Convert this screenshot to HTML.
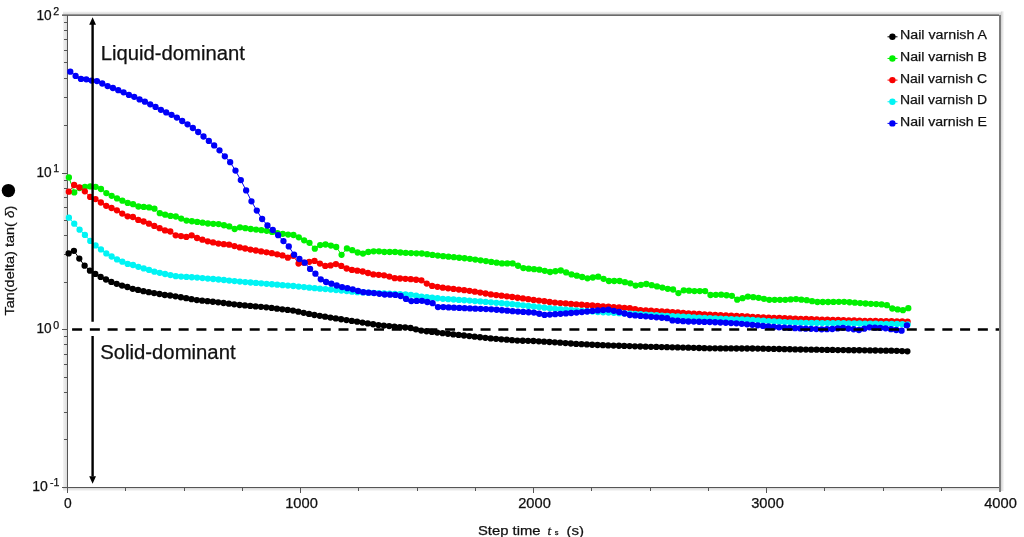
<!DOCTYPE html><html><head><meta charset="utf-8"><style>html,body{margin:0;padding:0;background:#fff;width:1024px;height:537px;overflow:hidden}svg{display:block;filter:blur(0.3px);font-family:"Liberation Sans",sans-serif}text{fill:#111;stroke:#111;stroke-width:0.25px}</style></head><body><svg width="1024" height="537" viewBox="0 0 1024 537"><defs><linearGradient id="gt" x1="0" y1="0" x2="0" y2="1"><stop offset="0" stop-color="#f4f4f4"/><stop offset="1" stop-color="#cfcfcf"/></linearGradient><linearGradient id="gb" x1="0" y1="0" x2="0" y2="1"><stop offset="0" stop-color="#d6d6d6"/><stop offset="1" stop-color="#fafafa"/></linearGradient><linearGradient id="gl" x1="0" y1="0" x2="1" y2="0"><stop offset="0" stop-color="#f3f3f3"/><stop offset="1" stop-color="#dcdcdc"/></linearGradient><linearGradient id="gr" x1="0" y1="0" x2="1" y2="0"><stop offset="0" stop-color="#d2d2d2"/><stop offset="1" stop-color="#fafafa"/></linearGradient></defs><rect width="1024" height="537" fill="#fff"/><rect x="63" y="11.5" width="941" height="3.5" fill="url(#gt)"/><rect x="63" y="488" width="938" height="3" fill="url(#gb)"/><rect x="1001" y="11.5" width="3" height="479.5" fill="url(#gr)"/><rect x="63" y="16" width="4" height="471" fill="url(#gl)"/><rect x="999" y="15" width="2" height="477" fill="#7c7c7c"/><rect x="62" y="14.4" width="937" height="1.6" fill="#6a6a6a"/><g stroke="#555" stroke-width="1" fill="none" shape-rendering="crispEdges"><path d="M62 487.5H999M67.5 15V493"/><path d="M64 125.5H67"/><path d="M64 97.5H67"/><path d="M64 78.5H67"/><path d="M64 62.5H67"/><path d="M64 50.5H67"/><path d="M64 39.5H67"/><path d="M64 30.5H67"/><path d="M64 22.5H67"/><path d="M64 282.5H67"/><path d="M64 254.5H67"/><path d="M64 235.5H67"/><path d="M64 220.5H67"/><path d="M64 207.5H67"/><path d="M64 197.5H67"/><path d="M64 188.5H67"/><path d="M64 180.5H67"/><path d="M64 439.5H67"/><path d="M64 412.5H67"/><path d="M64 392.5H67"/><path d="M64 377.5H67"/><path d="M64 364.5H67"/><path d="M64 354.5H67"/><path d="M64 344.5H67"/><path d="M64 336.5H67"/><path d="M62 173.5H67"/><path d="M62 329.5H67"/><path d="M67.5 488V493"/><path d="M125.5 488V491"/><path d="M184.5 488V491"/><path d="M242.5 488V491"/><path d="M300.5 488V493"/><path d="M358.5 488V491"/><path d="M417.5 488V491"/><path d="M475.5 488V491"/><path d="M533.5 488V493"/><path d="M591.5 488V491"/><path d="M650.5 488V491"/><path d="M708.5 488V491"/><path d="M766.5 488V493"/><path d="M824.5 488V491"/><path d="M883.5 488V491"/><path d="M941.5 488V491"/></g><polyline points="68.6,253.4 73.94,250.8 79.29,258.6 84.63,265.7 89.97,270.7 95.31,273.9 100.66,276.9 106,279.5 111.34,281.9 116.68,283.8 122.03,285.6 127.37,287 132.71,288.8 138.05,289.9 143.4,291.2 148.74,292.2 154.08,293.1 159.43,294 164.77,295 170.11,295.5 175.45,296.3 180.8,297.25 186.14,298.2 191.48,299.15 196.82,300.1 202.17,300.65 207.51,301.2 212.85,301.75 218.19,302.3 223.54,302.98 228.88,303.65 234.22,304.32 239.57,305 244.91,305.46 250.25,305.92 255.59,306.38 260.94,306.84 266.28,307.3 271.62,307.96 276.96,308.62 282.31,309.28 287.65,309.94 292.99,310.6 298.34,311.7 303.68,312.8 309.02,313.9 314.36,315 319.71,315.85 325.05,316.7 330.39,317.55 335.73,318.4 341.08,319.22 346.42,320.05 351.76,320.88 357.1,321.7 362.45,322.55 367.79,323.4 373.13,324.25 378.48,325.1 383.82,325.58 389.16,326.07 394.5,326.55 399.85,327.03 405.19,327.52 410.53,328 415.87,329.3 421.22,330.6 426.56,331.25 431.9,331.9 437.24,332.55 442.59,333.2 447.93,333.78 453.27,334.36 458.62,334.94 463.96,335.52 469.3,336.1 474.64,336.68 479.99,337.25 485.33,337.82 490.67,338.4 496.01,338.84 501.36,339.28 506.7,339.72 512.04,340.16 517.38,340.6 522.73,340.73 528.07,340.87 533.41,341 538.76,341.32 544.1,341.65 549.44,341.98 554.78,342.3 560.13,342.7 565.47,343.1 570.81,343.5 576.15,343.9 581.5,344.17 586.84,344.45 592.18,344.73 597.52,345 602.87,345.18 608.21,345.37 613.55,345.55 618.9,345.73 624.24,345.92 629.58,346.1 634.92,346.3 640.27,346.5 645.61,346.64 650.95,346.78 656.29,346.92 661.64,347.06 666.98,347.2 672.32,347.32 677.66,347.45 683.01,347.57 688.35,347.7 693.69,347.85 699.04,348 704.38,348.15 709.72,348.3 715.06,348.34 720.41,348.38 725.75,348.42 731.09,348.46 736.43,348.5 741.78,348.5 747.12,348.5 752.46,348.5 757.81,348.6 763.15,348.7 768.49,348.8 773.83,348.9 779.18,349.02 784.52,349.15 789.86,349.27 795.2,349.4 800.55,349.48 805.89,349.56 811.23,349.64 816.57,349.72 821.92,349.8 827.26,349.88 832.6,349.96 837.95,350.04 843.29,350.12 848.63,350.2 853.97,350.23 859.32,350.27 864.66,350.3 870,350.38 875.34,350.47 880.69,350.55 886.03,350.63 891.37,350.72 896.71,350.8 902.06,351.05 907.4,351.3" fill="none" stroke="#000000" stroke-width="1"/><path d="M65.45 253.4a3.15 3.15 0 1 0 6.3 0a3.15 3.15 0 1 0 -6.3 0M70.79 250.8a3.15 3.15 0 1 0 6.3 0a3.15 3.15 0 1 0 -6.3 0M76.14 258.6a3.15 3.15 0 1 0 6.3 0a3.15 3.15 0 1 0 -6.3 0M81.48 265.7a3.15 3.15 0 1 0 6.3 0a3.15 3.15 0 1 0 -6.3 0M86.82 270.7a3.15 3.15 0 1 0 6.3 0a3.15 3.15 0 1 0 -6.3 0M92.16 273.9a3.15 3.15 0 1 0 6.3 0a3.15 3.15 0 1 0 -6.3 0M97.51 276.9a3.15 3.15 0 1 0 6.3 0a3.15 3.15 0 1 0 -6.3 0M102.85 279.5a3.15 3.15 0 1 0 6.3 0a3.15 3.15 0 1 0 -6.3 0M108.19 281.9a3.15 3.15 0 1 0 6.3 0a3.15 3.15 0 1 0 -6.3 0M113.53 283.8a3.15 3.15 0 1 0 6.3 0a3.15 3.15 0 1 0 -6.3 0M118.88 285.6a3.15 3.15 0 1 0 6.3 0a3.15 3.15 0 1 0 -6.3 0M124.22 287a3.15 3.15 0 1 0 6.3 0a3.15 3.15 0 1 0 -6.3 0M129.56 288.8a3.15 3.15 0 1 0 6.3 0a3.15 3.15 0 1 0 -6.3 0M134.9 289.9a3.15 3.15 0 1 0 6.3 0a3.15 3.15 0 1 0 -6.3 0M140.25 291.2a3.15 3.15 0 1 0 6.3 0a3.15 3.15 0 1 0 -6.3 0M145.59 292.2a3.15 3.15 0 1 0 6.3 0a3.15 3.15 0 1 0 -6.3 0M150.93 293.1a3.15 3.15 0 1 0 6.3 0a3.15 3.15 0 1 0 -6.3 0M156.28 294a3.15 3.15 0 1 0 6.3 0a3.15 3.15 0 1 0 -6.3 0M161.62 295a3.15 3.15 0 1 0 6.3 0a3.15 3.15 0 1 0 -6.3 0M166.96 295.5a3.15 3.15 0 1 0 6.3 0a3.15 3.15 0 1 0 -6.3 0M172.3 296.3a3.15 3.15 0 1 0 6.3 0a3.15 3.15 0 1 0 -6.3 0M177.65 297.25a3.15 3.15 0 1 0 6.3 0a3.15 3.15 0 1 0 -6.3 0M182.99 298.2a3.15 3.15 0 1 0 6.3 0a3.15 3.15 0 1 0 -6.3 0M188.33 299.15a3.15 3.15 0 1 0 6.3 0a3.15 3.15 0 1 0 -6.3 0M193.67 300.1a3.15 3.15 0 1 0 6.3 0a3.15 3.15 0 1 0 -6.3 0M199.02 300.65a3.15 3.15 0 1 0 6.3 0a3.15 3.15 0 1 0 -6.3 0M204.36 301.2a3.15 3.15 0 1 0 6.3 0a3.15 3.15 0 1 0 -6.3 0M209.7 301.75a3.15 3.15 0 1 0 6.3 0a3.15 3.15 0 1 0 -6.3 0M215.04 302.3a3.15 3.15 0 1 0 6.3 0a3.15 3.15 0 1 0 -6.3 0M220.39 302.98a3.15 3.15 0 1 0 6.3 0a3.15 3.15 0 1 0 -6.3 0M225.73 303.65a3.15 3.15 0 1 0 6.3 0a3.15 3.15 0 1 0 -6.3 0M231.07 304.32a3.15 3.15 0 1 0 6.3 0a3.15 3.15 0 1 0 -6.3 0M236.42 305a3.15 3.15 0 1 0 6.3 0a3.15 3.15 0 1 0 -6.3 0M241.76 305.46a3.15 3.15 0 1 0 6.3 0a3.15 3.15 0 1 0 -6.3 0M247.1 305.92a3.15 3.15 0 1 0 6.3 0a3.15 3.15 0 1 0 -6.3 0M252.44 306.38a3.15 3.15 0 1 0 6.3 0a3.15 3.15 0 1 0 -6.3 0M257.79 306.84a3.15 3.15 0 1 0 6.3 0a3.15 3.15 0 1 0 -6.3 0M263.13 307.3a3.15 3.15 0 1 0 6.3 0a3.15 3.15 0 1 0 -6.3 0M268.47 307.96a3.15 3.15 0 1 0 6.3 0a3.15 3.15 0 1 0 -6.3 0M273.81 308.62a3.15 3.15 0 1 0 6.3 0a3.15 3.15 0 1 0 -6.3 0M279.16 309.28a3.15 3.15 0 1 0 6.3 0a3.15 3.15 0 1 0 -6.3 0M284.5 309.94a3.15 3.15 0 1 0 6.3 0a3.15 3.15 0 1 0 -6.3 0M289.84 310.6a3.15 3.15 0 1 0 6.3 0a3.15 3.15 0 1 0 -6.3 0M295.19 311.7a3.15 3.15 0 1 0 6.3 0a3.15 3.15 0 1 0 -6.3 0M300.53 312.8a3.15 3.15 0 1 0 6.3 0a3.15 3.15 0 1 0 -6.3 0M305.87 313.9a3.15 3.15 0 1 0 6.3 0a3.15 3.15 0 1 0 -6.3 0M311.21 315a3.15 3.15 0 1 0 6.3 0a3.15 3.15 0 1 0 -6.3 0M316.56 315.85a3.15 3.15 0 1 0 6.3 0a3.15 3.15 0 1 0 -6.3 0M321.9 316.7a3.15 3.15 0 1 0 6.3 0a3.15 3.15 0 1 0 -6.3 0M327.24 317.55a3.15 3.15 0 1 0 6.3 0a3.15 3.15 0 1 0 -6.3 0M332.58 318.4a3.15 3.15 0 1 0 6.3 0a3.15 3.15 0 1 0 -6.3 0M337.93 319.22a3.15 3.15 0 1 0 6.3 0a3.15 3.15 0 1 0 -6.3 0M343.27 320.05a3.15 3.15 0 1 0 6.3 0a3.15 3.15 0 1 0 -6.3 0M348.61 320.88a3.15 3.15 0 1 0 6.3 0a3.15 3.15 0 1 0 -6.3 0M353.95 321.7a3.15 3.15 0 1 0 6.3 0a3.15 3.15 0 1 0 -6.3 0M359.3 322.55a3.15 3.15 0 1 0 6.3 0a3.15 3.15 0 1 0 -6.3 0M364.64 323.4a3.15 3.15 0 1 0 6.3 0a3.15 3.15 0 1 0 -6.3 0M369.98 324.25a3.15 3.15 0 1 0 6.3 0a3.15 3.15 0 1 0 -6.3 0M375.33 325.1a3.15 3.15 0 1 0 6.3 0a3.15 3.15 0 1 0 -6.3 0M380.67 325.58a3.15 3.15 0 1 0 6.3 0a3.15 3.15 0 1 0 -6.3 0M386.01 326.07a3.15 3.15 0 1 0 6.3 0a3.15 3.15 0 1 0 -6.3 0M391.35 326.55a3.15 3.15 0 1 0 6.3 0a3.15 3.15 0 1 0 -6.3 0M396.7 327.03a3.15 3.15 0 1 0 6.3 0a3.15 3.15 0 1 0 -6.3 0M402.04 327.52a3.15 3.15 0 1 0 6.3 0a3.15 3.15 0 1 0 -6.3 0M407.38 328a3.15 3.15 0 1 0 6.3 0a3.15 3.15 0 1 0 -6.3 0M412.72 329.3a3.15 3.15 0 1 0 6.3 0a3.15 3.15 0 1 0 -6.3 0M418.07 330.6a3.15 3.15 0 1 0 6.3 0a3.15 3.15 0 1 0 -6.3 0M423.41 331.25a3.15 3.15 0 1 0 6.3 0a3.15 3.15 0 1 0 -6.3 0M428.75 331.9a3.15 3.15 0 1 0 6.3 0a3.15 3.15 0 1 0 -6.3 0M434.09 332.55a3.15 3.15 0 1 0 6.3 0a3.15 3.15 0 1 0 -6.3 0M439.44 333.2a3.15 3.15 0 1 0 6.3 0a3.15 3.15 0 1 0 -6.3 0M444.78 333.78a3.15 3.15 0 1 0 6.3 0a3.15 3.15 0 1 0 -6.3 0M450.12 334.36a3.15 3.15 0 1 0 6.3 0a3.15 3.15 0 1 0 -6.3 0M455.47 334.94a3.15 3.15 0 1 0 6.3 0a3.15 3.15 0 1 0 -6.3 0M460.81 335.52a3.15 3.15 0 1 0 6.3 0a3.15 3.15 0 1 0 -6.3 0M466.15 336.1a3.15 3.15 0 1 0 6.3 0a3.15 3.15 0 1 0 -6.3 0M471.49 336.68a3.15 3.15 0 1 0 6.3 0a3.15 3.15 0 1 0 -6.3 0M476.84 337.25a3.15 3.15 0 1 0 6.3 0a3.15 3.15 0 1 0 -6.3 0M482.18 337.82a3.15 3.15 0 1 0 6.3 0a3.15 3.15 0 1 0 -6.3 0M487.52 338.4a3.15 3.15 0 1 0 6.3 0a3.15 3.15 0 1 0 -6.3 0M492.86 338.84a3.15 3.15 0 1 0 6.3 0a3.15 3.15 0 1 0 -6.3 0M498.21 339.28a3.15 3.15 0 1 0 6.3 0a3.15 3.15 0 1 0 -6.3 0M503.55 339.72a3.15 3.15 0 1 0 6.3 0a3.15 3.15 0 1 0 -6.3 0M508.89 340.16a3.15 3.15 0 1 0 6.3 0a3.15 3.15 0 1 0 -6.3 0M514.23 340.6a3.15 3.15 0 1 0 6.3 0a3.15 3.15 0 1 0 -6.3 0M519.58 340.73a3.15 3.15 0 1 0 6.3 0a3.15 3.15 0 1 0 -6.3 0M524.92 340.87a3.15 3.15 0 1 0 6.3 0a3.15 3.15 0 1 0 -6.3 0M530.26 341a3.15 3.15 0 1 0 6.3 0a3.15 3.15 0 1 0 -6.3 0M535.61 341.32a3.15 3.15 0 1 0 6.3 0a3.15 3.15 0 1 0 -6.3 0M540.95 341.65a3.15 3.15 0 1 0 6.3 0a3.15 3.15 0 1 0 -6.3 0M546.29 341.98a3.15 3.15 0 1 0 6.3 0a3.15 3.15 0 1 0 -6.3 0M551.63 342.3a3.15 3.15 0 1 0 6.3 0a3.15 3.15 0 1 0 -6.3 0M556.98 342.7a3.15 3.15 0 1 0 6.3 0a3.15 3.15 0 1 0 -6.3 0M562.32 343.1a3.15 3.15 0 1 0 6.3 0a3.15 3.15 0 1 0 -6.3 0M567.66 343.5a3.15 3.15 0 1 0 6.3 0a3.15 3.15 0 1 0 -6.3 0M573 343.9a3.15 3.15 0 1 0 6.3 0a3.15 3.15 0 1 0 -6.3 0M578.35 344.17a3.15 3.15 0 1 0 6.3 0a3.15 3.15 0 1 0 -6.3 0M583.69 344.45a3.15 3.15 0 1 0 6.3 0a3.15 3.15 0 1 0 -6.3 0M589.03 344.73a3.15 3.15 0 1 0 6.3 0a3.15 3.15 0 1 0 -6.3 0M594.37 345a3.15 3.15 0 1 0 6.3 0a3.15 3.15 0 1 0 -6.3 0M599.72 345.18a3.15 3.15 0 1 0 6.3 0a3.15 3.15 0 1 0 -6.3 0M605.06 345.37a3.15 3.15 0 1 0 6.3 0a3.15 3.15 0 1 0 -6.3 0M610.4 345.55a3.15 3.15 0 1 0 6.3 0a3.15 3.15 0 1 0 -6.3 0M615.75 345.73a3.15 3.15 0 1 0 6.3 0a3.15 3.15 0 1 0 -6.3 0M621.09 345.92a3.15 3.15 0 1 0 6.3 0a3.15 3.15 0 1 0 -6.3 0M626.43 346.1a3.15 3.15 0 1 0 6.3 0a3.15 3.15 0 1 0 -6.3 0M631.77 346.3a3.15 3.15 0 1 0 6.3 0a3.15 3.15 0 1 0 -6.3 0M637.12 346.5a3.15 3.15 0 1 0 6.3 0a3.15 3.15 0 1 0 -6.3 0M642.46 346.64a3.15 3.15 0 1 0 6.3 0a3.15 3.15 0 1 0 -6.3 0M647.8 346.78a3.15 3.15 0 1 0 6.3 0a3.15 3.15 0 1 0 -6.3 0M653.14 346.92a3.15 3.15 0 1 0 6.3 0a3.15 3.15 0 1 0 -6.3 0M658.49 347.06a3.15 3.15 0 1 0 6.3 0a3.15 3.15 0 1 0 -6.3 0M663.83 347.2a3.15 3.15 0 1 0 6.3 0a3.15 3.15 0 1 0 -6.3 0M669.17 347.32a3.15 3.15 0 1 0 6.3 0a3.15 3.15 0 1 0 -6.3 0M674.51 347.45a3.15 3.15 0 1 0 6.3 0a3.15 3.15 0 1 0 -6.3 0M679.86 347.57a3.15 3.15 0 1 0 6.3 0a3.15 3.15 0 1 0 -6.3 0M685.2 347.7a3.15 3.15 0 1 0 6.3 0a3.15 3.15 0 1 0 -6.3 0M690.54 347.85a3.15 3.15 0 1 0 6.3 0a3.15 3.15 0 1 0 -6.3 0M695.89 348a3.15 3.15 0 1 0 6.3 0a3.15 3.15 0 1 0 -6.3 0M701.23 348.15a3.15 3.15 0 1 0 6.3 0a3.15 3.15 0 1 0 -6.3 0M706.57 348.3a3.15 3.15 0 1 0 6.3 0a3.15 3.15 0 1 0 -6.3 0M711.91 348.34a3.15 3.15 0 1 0 6.3 0a3.15 3.15 0 1 0 -6.3 0M717.26 348.38a3.15 3.15 0 1 0 6.3 0a3.15 3.15 0 1 0 -6.3 0M722.6 348.42a3.15 3.15 0 1 0 6.3 0a3.15 3.15 0 1 0 -6.3 0M727.94 348.46a3.15 3.15 0 1 0 6.3 0a3.15 3.15 0 1 0 -6.3 0M733.28 348.5a3.15 3.15 0 1 0 6.3 0a3.15 3.15 0 1 0 -6.3 0M738.63 348.5a3.15 3.15 0 1 0 6.3 0a3.15 3.15 0 1 0 -6.3 0M743.97 348.5a3.15 3.15 0 1 0 6.3 0a3.15 3.15 0 1 0 -6.3 0M749.31 348.5a3.15 3.15 0 1 0 6.3 0a3.15 3.15 0 1 0 -6.3 0M754.66 348.6a3.15 3.15 0 1 0 6.3 0a3.15 3.15 0 1 0 -6.3 0M760 348.7a3.15 3.15 0 1 0 6.3 0a3.15 3.15 0 1 0 -6.3 0M765.34 348.8a3.15 3.15 0 1 0 6.3 0a3.15 3.15 0 1 0 -6.3 0M770.68 348.9a3.15 3.15 0 1 0 6.3 0a3.15 3.15 0 1 0 -6.3 0M776.03 349.02a3.15 3.15 0 1 0 6.3 0a3.15 3.15 0 1 0 -6.3 0M781.37 349.15a3.15 3.15 0 1 0 6.3 0a3.15 3.15 0 1 0 -6.3 0M786.71 349.27a3.15 3.15 0 1 0 6.3 0a3.15 3.15 0 1 0 -6.3 0M792.05 349.4a3.15 3.15 0 1 0 6.3 0a3.15 3.15 0 1 0 -6.3 0M797.4 349.48a3.15 3.15 0 1 0 6.3 0a3.15 3.15 0 1 0 -6.3 0M802.74 349.56a3.15 3.15 0 1 0 6.3 0a3.15 3.15 0 1 0 -6.3 0M808.08 349.64a3.15 3.15 0 1 0 6.3 0a3.15 3.15 0 1 0 -6.3 0M813.42 349.72a3.15 3.15 0 1 0 6.3 0a3.15 3.15 0 1 0 -6.3 0M818.77 349.8a3.15 3.15 0 1 0 6.3 0a3.15 3.15 0 1 0 -6.3 0M824.11 349.88a3.15 3.15 0 1 0 6.3 0a3.15 3.15 0 1 0 -6.3 0M829.45 349.96a3.15 3.15 0 1 0 6.3 0a3.15 3.15 0 1 0 -6.3 0M834.8 350.04a3.15 3.15 0 1 0 6.3 0a3.15 3.15 0 1 0 -6.3 0M840.14 350.12a3.15 3.15 0 1 0 6.3 0a3.15 3.15 0 1 0 -6.3 0M845.48 350.2a3.15 3.15 0 1 0 6.3 0a3.15 3.15 0 1 0 -6.3 0M850.82 350.23a3.15 3.15 0 1 0 6.3 0a3.15 3.15 0 1 0 -6.3 0M856.17 350.27a3.15 3.15 0 1 0 6.3 0a3.15 3.15 0 1 0 -6.3 0M861.51 350.3a3.15 3.15 0 1 0 6.3 0a3.15 3.15 0 1 0 -6.3 0M866.85 350.38a3.15 3.15 0 1 0 6.3 0a3.15 3.15 0 1 0 -6.3 0M872.19 350.47a3.15 3.15 0 1 0 6.3 0a3.15 3.15 0 1 0 -6.3 0M877.54 350.55a3.15 3.15 0 1 0 6.3 0a3.15 3.15 0 1 0 -6.3 0M882.88 350.63a3.15 3.15 0 1 0 6.3 0a3.15 3.15 0 1 0 -6.3 0M888.22 350.72a3.15 3.15 0 1 0 6.3 0a3.15 3.15 0 1 0 -6.3 0M893.56 350.8a3.15 3.15 0 1 0 6.3 0a3.15 3.15 0 1 0 -6.3 0M898.91 351.05a3.15 3.15 0 1 0 6.3 0a3.15 3.15 0 1 0 -6.3 0M904.25 351.3a3.15 3.15 0 1 0 6.3 0a3.15 3.15 0 1 0 -6.3 0" fill="#000000"/><polyline points="68.9,177.4 74.25,192.4 79.59,188 84.94,186.8 90.29,186.4 95.63,186.8 100.98,189 106.33,193.1 111.67,195.8 117.02,198.4 122.36,200.7 127.71,202.9 133.06,204.2 138.4,206.5 143.75,206.9 149.1,207.4 154.44,208.7 159.79,213.2 165.14,214.7 170.48,215.9 175.83,216.5 181.18,218.55 186.52,220.6 191.87,221.25 197.22,221.9 202.56,222.7 207.91,223.5 213.26,223.8 218.6,224.1 223.95,225.25 229.29,226.4 234.64,229 239.99,227.3 245.33,228.15 250.68,229 256.03,229.6 261.37,230.2 266.72,230.8 272.07,231.95 277.41,233.1 282.76,233.85 288.11,234.6 293.45,235 298.8,237.3 304.15,240.3 309.49,242.8 314.84,248.7 320.19,245.1 325.53,244.5 330.88,245.6 336.22,247 341.57,254.8 346.92,248.4 352.26,250.2 357.61,252.5 362.96,253.6 368.3,252 373.65,251.3 379,251.3 384.34,252 389.69,252 395.04,252 400.38,252.5 405.73,252.9 411.08,253.1 416.42,253.3 421.77,253.5 427.12,254.2 432.46,254.9 437.81,255.6 443.15,256.13 448.5,256.67 453.85,257.2 459.19,257.73 464.54,258.27 469.89,258.8 475.23,259.57 480.58,260.33 485.93,261.1 491.27,261.87 496.62,262.63 501.97,263.4 507.31,263.4 512.66,263.4 518.01,265.75 523.35,268.1 528.7,268.63 534.05,269.17 539.39,269.7 544.74,270.85 550.08,272 555.43,271.25 560.78,270.5 566.12,272.45 571.47,274.4 576.82,275.7 582.16,277 587.51,278.3 592.86,277.5 598.2,276.7 603.55,278.85 608.9,281 614.24,281 619.59,281 624.94,282.15 630.28,283.3 635.63,285.6 640.98,284.8 646.32,284 651.67,285.2 657.01,286.4 662.36,287.6 667.71,288.8 673.05,289.5 678.4,293.1 683.75,290.3 689.09,290.7 694.44,291.1 699.79,291.1 705.13,291.1 710.48,295 715.83,294.85 721.17,294.7 726.52,295.25 731.87,295.8 737.21,299.7 742.56,298.15 747.91,296.6 753.25,297.2 758.6,297.8 763.94,298.8 769.29,299.8 774.64,299.8 779.98,299.8 785.33,299.8 790.68,299.45 796.02,299.1 801.37,299.65 806.72,300.2 812.06,301.1 817.41,302 822.76,302 828.1,302 833.45,301.93 838.8,301.87 844.14,301.8 849.49,302.23 854.84,302.65 860.18,303.07 865.53,303.5 870.87,303.8 876.22,304.1 881.57,304.4 886.91,305.2 892.26,308.5 897.61,309.4 902.95,310.2 908.3,308.2" fill="none" stroke="#00f000" stroke-width="1"/><path d="M65.75 177.4a3.15 3.15 0 1 0 6.3 0a3.15 3.15 0 1 0 -6.3 0M71.1 192.4a3.15 3.15 0 1 0 6.3 0a3.15 3.15 0 1 0 -6.3 0M76.44 188a3.15 3.15 0 1 0 6.3 0a3.15 3.15 0 1 0 -6.3 0M81.79 186.8a3.15 3.15 0 1 0 6.3 0a3.15 3.15 0 1 0 -6.3 0M87.14 186.4a3.15 3.15 0 1 0 6.3 0a3.15 3.15 0 1 0 -6.3 0M92.48 186.8a3.15 3.15 0 1 0 6.3 0a3.15 3.15 0 1 0 -6.3 0M97.83 189a3.15 3.15 0 1 0 6.3 0a3.15 3.15 0 1 0 -6.3 0M103.18 193.1a3.15 3.15 0 1 0 6.3 0a3.15 3.15 0 1 0 -6.3 0M108.52 195.8a3.15 3.15 0 1 0 6.3 0a3.15 3.15 0 1 0 -6.3 0M113.87 198.4a3.15 3.15 0 1 0 6.3 0a3.15 3.15 0 1 0 -6.3 0M119.21 200.7a3.15 3.15 0 1 0 6.3 0a3.15 3.15 0 1 0 -6.3 0M124.56 202.9a3.15 3.15 0 1 0 6.3 0a3.15 3.15 0 1 0 -6.3 0M129.91 204.2a3.15 3.15 0 1 0 6.3 0a3.15 3.15 0 1 0 -6.3 0M135.25 206.5a3.15 3.15 0 1 0 6.3 0a3.15 3.15 0 1 0 -6.3 0M140.6 206.9a3.15 3.15 0 1 0 6.3 0a3.15 3.15 0 1 0 -6.3 0M145.95 207.4a3.15 3.15 0 1 0 6.3 0a3.15 3.15 0 1 0 -6.3 0M151.29 208.7a3.15 3.15 0 1 0 6.3 0a3.15 3.15 0 1 0 -6.3 0M156.64 213.2a3.15 3.15 0 1 0 6.3 0a3.15 3.15 0 1 0 -6.3 0M161.99 214.7a3.15 3.15 0 1 0 6.3 0a3.15 3.15 0 1 0 -6.3 0M167.33 215.9a3.15 3.15 0 1 0 6.3 0a3.15 3.15 0 1 0 -6.3 0M172.68 216.5a3.15 3.15 0 1 0 6.3 0a3.15 3.15 0 1 0 -6.3 0M178.03 218.55a3.15 3.15 0 1 0 6.3 0a3.15 3.15 0 1 0 -6.3 0M183.37 220.6a3.15 3.15 0 1 0 6.3 0a3.15 3.15 0 1 0 -6.3 0M188.72 221.25a3.15 3.15 0 1 0 6.3 0a3.15 3.15 0 1 0 -6.3 0M194.07 221.9a3.15 3.15 0 1 0 6.3 0a3.15 3.15 0 1 0 -6.3 0M199.41 222.7a3.15 3.15 0 1 0 6.3 0a3.15 3.15 0 1 0 -6.3 0M204.76 223.5a3.15 3.15 0 1 0 6.3 0a3.15 3.15 0 1 0 -6.3 0M210.11 223.8a3.15 3.15 0 1 0 6.3 0a3.15 3.15 0 1 0 -6.3 0M215.45 224.1a3.15 3.15 0 1 0 6.3 0a3.15 3.15 0 1 0 -6.3 0M220.8 225.25a3.15 3.15 0 1 0 6.3 0a3.15 3.15 0 1 0 -6.3 0M226.14 226.4a3.15 3.15 0 1 0 6.3 0a3.15 3.15 0 1 0 -6.3 0M231.49 229a3.15 3.15 0 1 0 6.3 0a3.15 3.15 0 1 0 -6.3 0M236.84 227.3a3.15 3.15 0 1 0 6.3 0a3.15 3.15 0 1 0 -6.3 0M242.18 228.15a3.15 3.15 0 1 0 6.3 0a3.15 3.15 0 1 0 -6.3 0M247.53 229a3.15 3.15 0 1 0 6.3 0a3.15 3.15 0 1 0 -6.3 0M252.88 229.6a3.15 3.15 0 1 0 6.3 0a3.15 3.15 0 1 0 -6.3 0M258.22 230.2a3.15 3.15 0 1 0 6.3 0a3.15 3.15 0 1 0 -6.3 0M263.57 230.8a3.15 3.15 0 1 0 6.3 0a3.15 3.15 0 1 0 -6.3 0M268.92 231.95a3.15 3.15 0 1 0 6.3 0a3.15 3.15 0 1 0 -6.3 0M274.26 233.1a3.15 3.15 0 1 0 6.3 0a3.15 3.15 0 1 0 -6.3 0M279.61 233.85a3.15 3.15 0 1 0 6.3 0a3.15 3.15 0 1 0 -6.3 0M284.96 234.6a3.15 3.15 0 1 0 6.3 0a3.15 3.15 0 1 0 -6.3 0M290.3 235a3.15 3.15 0 1 0 6.3 0a3.15 3.15 0 1 0 -6.3 0M295.65 237.3a3.15 3.15 0 1 0 6.3 0a3.15 3.15 0 1 0 -6.3 0M301 240.3a3.15 3.15 0 1 0 6.3 0a3.15 3.15 0 1 0 -6.3 0M306.34 242.8a3.15 3.15 0 1 0 6.3 0a3.15 3.15 0 1 0 -6.3 0M311.69 248.7a3.15 3.15 0 1 0 6.3 0a3.15 3.15 0 1 0 -6.3 0M317.04 245.1a3.15 3.15 0 1 0 6.3 0a3.15 3.15 0 1 0 -6.3 0M322.38 244.5a3.15 3.15 0 1 0 6.3 0a3.15 3.15 0 1 0 -6.3 0M327.73 245.6a3.15 3.15 0 1 0 6.3 0a3.15 3.15 0 1 0 -6.3 0M333.07 247a3.15 3.15 0 1 0 6.3 0a3.15 3.15 0 1 0 -6.3 0M338.42 254.8a3.15 3.15 0 1 0 6.3 0a3.15 3.15 0 1 0 -6.3 0M343.77 248.4a3.15 3.15 0 1 0 6.3 0a3.15 3.15 0 1 0 -6.3 0M349.11 250.2a3.15 3.15 0 1 0 6.3 0a3.15 3.15 0 1 0 -6.3 0M354.46 252.5a3.15 3.15 0 1 0 6.3 0a3.15 3.15 0 1 0 -6.3 0M359.81 253.6a3.15 3.15 0 1 0 6.3 0a3.15 3.15 0 1 0 -6.3 0M365.15 252a3.15 3.15 0 1 0 6.3 0a3.15 3.15 0 1 0 -6.3 0M370.5 251.3a3.15 3.15 0 1 0 6.3 0a3.15 3.15 0 1 0 -6.3 0M375.85 251.3a3.15 3.15 0 1 0 6.3 0a3.15 3.15 0 1 0 -6.3 0M381.19 252a3.15 3.15 0 1 0 6.3 0a3.15 3.15 0 1 0 -6.3 0M386.54 252a3.15 3.15 0 1 0 6.3 0a3.15 3.15 0 1 0 -6.3 0M391.89 252a3.15 3.15 0 1 0 6.3 0a3.15 3.15 0 1 0 -6.3 0M397.23 252.5a3.15 3.15 0 1 0 6.3 0a3.15 3.15 0 1 0 -6.3 0M402.58 252.9a3.15 3.15 0 1 0 6.3 0a3.15 3.15 0 1 0 -6.3 0M407.93 253.1a3.15 3.15 0 1 0 6.3 0a3.15 3.15 0 1 0 -6.3 0M413.27 253.3a3.15 3.15 0 1 0 6.3 0a3.15 3.15 0 1 0 -6.3 0M418.62 253.5a3.15 3.15 0 1 0 6.3 0a3.15 3.15 0 1 0 -6.3 0M423.97 254.2a3.15 3.15 0 1 0 6.3 0a3.15 3.15 0 1 0 -6.3 0M429.31 254.9a3.15 3.15 0 1 0 6.3 0a3.15 3.15 0 1 0 -6.3 0M434.66 255.6a3.15 3.15 0 1 0 6.3 0a3.15 3.15 0 1 0 -6.3 0M440 256.13a3.15 3.15 0 1 0 6.3 0a3.15 3.15 0 1 0 -6.3 0M445.35 256.67a3.15 3.15 0 1 0 6.3 0a3.15 3.15 0 1 0 -6.3 0M450.7 257.2a3.15 3.15 0 1 0 6.3 0a3.15 3.15 0 1 0 -6.3 0M456.04 257.73a3.15 3.15 0 1 0 6.3 0a3.15 3.15 0 1 0 -6.3 0M461.39 258.27a3.15 3.15 0 1 0 6.3 0a3.15 3.15 0 1 0 -6.3 0M466.74 258.8a3.15 3.15 0 1 0 6.3 0a3.15 3.15 0 1 0 -6.3 0M472.08 259.57a3.15 3.15 0 1 0 6.3 0a3.15 3.15 0 1 0 -6.3 0M477.43 260.33a3.15 3.15 0 1 0 6.3 0a3.15 3.15 0 1 0 -6.3 0M482.78 261.1a3.15 3.15 0 1 0 6.3 0a3.15 3.15 0 1 0 -6.3 0M488.12 261.87a3.15 3.15 0 1 0 6.3 0a3.15 3.15 0 1 0 -6.3 0M493.47 262.63a3.15 3.15 0 1 0 6.3 0a3.15 3.15 0 1 0 -6.3 0M498.82 263.4a3.15 3.15 0 1 0 6.3 0a3.15 3.15 0 1 0 -6.3 0M504.16 263.4a3.15 3.15 0 1 0 6.3 0a3.15 3.15 0 1 0 -6.3 0M509.51 263.4a3.15 3.15 0 1 0 6.3 0a3.15 3.15 0 1 0 -6.3 0M514.86 265.75a3.15 3.15 0 1 0 6.3 0a3.15 3.15 0 1 0 -6.3 0M520.2 268.1a3.15 3.15 0 1 0 6.3 0a3.15 3.15 0 1 0 -6.3 0M525.55 268.63a3.15 3.15 0 1 0 6.3 0a3.15 3.15 0 1 0 -6.3 0M530.9 269.17a3.15 3.15 0 1 0 6.3 0a3.15 3.15 0 1 0 -6.3 0M536.24 269.7a3.15 3.15 0 1 0 6.3 0a3.15 3.15 0 1 0 -6.3 0M541.59 270.85a3.15 3.15 0 1 0 6.3 0a3.15 3.15 0 1 0 -6.3 0M546.93 272a3.15 3.15 0 1 0 6.3 0a3.15 3.15 0 1 0 -6.3 0M552.28 271.25a3.15 3.15 0 1 0 6.3 0a3.15 3.15 0 1 0 -6.3 0M557.63 270.5a3.15 3.15 0 1 0 6.3 0a3.15 3.15 0 1 0 -6.3 0M562.97 272.45a3.15 3.15 0 1 0 6.3 0a3.15 3.15 0 1 0 -6.3 0M568.32 274.4a3.15 3.15 0 1 0 6.3 0a3.15 3.15 0 1 0 -6.3 0M573.67 275.7a3.15 3.15 0 1 0 6.3 0a3.15 3.15 0 1 0 -6.3 0M579.01 277a3.15 3.15 0 1 0 6.3 0a3.15 3.15 0 1 0 -6.3 0M584.36 278.3a3.15 3.15 0 1 0 6.3 0a3.15 3.15 0 1 0 -6.3 0M589.71 277.5a3.15 3.15 0 1 0 6.3 0a3.15 3.15 0 1 0 -6.3 0M595.05 276.7a3.15 3.15 0 1 0 6.3 0a3.15 3.15 0 1 0 -6.3 0M600.4 278.85a3.15 3.15 0 1 0 6.3 0a3.15 3.15 0 1 0 -6.3 0M605.75 281a3.15 3.15 0 1 0 6.3 0a3.15 3.15 0 1 0 -6.3 0M611.09 281a3.15 3.15 0 1 0 6.3 0a3.15 3.15 0 1 0 -6.3 0M616.44 281a3.15 3.15 0 1 0 6.3 0a3.15 3.15 0 1 0 -6.3 0M621.79 282.15a3.15 3.15 0 1 0 6.3 0a3.15 3.15 0 1 0 -6.3 0M627.13 283.3a3.15 3.15 0 1 0 6.3 0a3.15 3.15 0 1 0 -6.3 0M632.48 285.6a3.15 3.15 0 1 0 6.3 0a3.15 3.15 0 1 0 -6.3 0M637.83 284.8a3.15 3.15 0 1 0 6.3 0a3.15 3.15 0 1 0 -6.3 0M643.17 284a3.15 3.15 0 1 0 6.3 0a3.15 3.15 0 1 0 -6.3 0M648.52 285.2a3.15 3.15 0 1 0 6.3 0a3.15 3.15 0 1 0 -6.3 0M653.86 286.4a3.15 3.15 0 1 0 6.3 0a3.15 3.15 0 1 0 -6.3 0M659.21 287.6a3.15 3.15 0 1 0 6.3 0a3.15 3.15 0 1 0 -6.3 0M664.56 288.8a3.15 3.15 0 1 0 6.3 0a3.15 3.15 0 1 0 -6.3 0M669.9 289.5a3.15 3.15 0 1 0 6.3 0a3.15 3.15 0 1 0 -6.3 0M675.25 293.1a3.15 3.15 0 1 0 6.3 0a3.15 3.15 0 1 0 -6.3 0M680.6 290.3a3.15 3.15 0 1 0 6.3 0a3.15 3.15 0 1 0 -6.3 0M685.94 290.7a3.15 3.15 0 1 0 6.3 0a3.15 3.15 0 1 0 -6.3 0M691.29 291.1a3.15 3.15 0 1 0 6.3 0a3.15 3.15 0 1 0 -6.3 0M696.64 291.1a3.15 3.15 0 1 0 6.3 0a3.15 3.15 0 1 0 -6.3 0M701.98 291.1a3.15 3.15 0 1 0 6.3 0a3.15 3.15 0 1 0 -6.3 0M707.33 295a3.15 3.15 0 1 0 6.3 0a3.15 3.15 0 1 0 -6.3 0M712.68 294.85a3.15 3.15 0 1 0 6.3 0a3.15 3.15 0 1 0 -6.3 0M718.02 294.7a3.15 3.15 0 1 0 6.3 0a3.15 3.15 0 1 0 -6.3 0M723.37 295.25a3.15 3.15 0 1 0 6.3 0a3.15 3.15 0 1 0 -6.3 0M728.72 295.8a3.15 3.15 0 1 0 6.3 0a3.15 3.15 0 1 0 -6.3 0M734.06 299.7a3.15 3.15 0 1 0 6.3 0a3.15 3.15 0 1 0 -6.3 0M739.41 298.15a3.15 3.15 0 1 0 6.3 0a3.15 3.15 0 1 0 -6.3 0M744.76 296.6a3.15 3.15 0 1 0 6.3 0a3.15 3.15 0 1 0 -6.3 0M750.1 297.2a3.15 3.15 0 1 0 6.3 0a3.15 3.15 0 1 0 -6.3 0M755.45 297.8a3.15 3.15 0 1 0 6.3 0a3.15 3.15 0 1 0 -6.3 0M760.79 298.8a3.15 3.15 0 1 0 6.3 0a3.15 3.15 0 1 0 -6.3 0M766.14 299.8a3.15 3.15 0 1 0 6.3 0a3.15 3.15 0 1 0 -6.3 0M771.49 299.8a3.15 3.15 0 1 0 6.3 0a3.15 3.15 0 1 0 -6.3 0M776.83 299.8a3.15 3.15 0 1 0 6.3 0a3.15 3.15 0 1 0 -6.3 0M782.18 299.8a3.15 3.15 0 1 0 6.3 0a3.15 3.15 0 1 0 -6.3 0M787.53 299.45a3.15 3.15 0 1 0 6.3 0a3.15 3.15 0 1 0 -6.3 0M792.87 299.1a3.15 3.15 0 1 0 6.3 0a3.15 3.15 0 1 0 -6.3 0M798.22 299.65a3.15 3.15 0 1 0 6.3 0a3.15 3.15 0 1 0 -6.3 0M803.57 300.2a3.15 3.15 0 1 0 6.3 0a3.15 3.15 0 1 0 -6.3 0M808.91 301.1a3.15 3.15 0 1 0 6.3 0a3.15 3.15 0 1 0 -6.3 0M814.26 302a3.15 3.15 0 1 0 6.3 0a3.15 3.15 0 1 0 -6.3 0M819.61 302a3.15 3.15 0 1 0 6.3 0a3.15 3.15 0 1 0 -6.3 0M824.95 302a3.15 3.15 0 1 0 6.3 0a3.15 3.15 0 1 0 -6.3 0M830.3 301.93a3.15 3.15 0 1 0 6.3 0a3.15 3.15 0 1 0 -6.3 0M835.65 301.87a3.15 3.15 0 1 0 6.3 0a3.15 3.15 0 1 0 -6.3 0M840.99 301.8a3.15 3.15 0 1 0 6.3 0a3.15 3.15 0 1 0 -6.3 0M846.34 302.23a3.15 3.15 0 1 0 6.3 0a3.15 3.15 0 1 0 -6.3 0M851.69 302.65a3.15 3.15 0 1 0 6.3 0a3.15 3.15 0 1 0 -6.3 0M857.03 303.07a3.15 3.15 0 1 0 6.3 0a3.15 3.15 0 1 0 -6.3 0M862.38 303.5a3.15 3.15 0 1 0 6.3 0a3.15 3.15 0 1 0 -6.3 0M867.72 303.8a3.15 3.15 0 1 0 6.3 0a3.15 3.15 0 1 0 -6.3 0M873.07 304.1a3.15 3.15 0 1 0 6.3 0a3.15 3.15 0 1 0 -6.3 0M878.42 304.4a3.15 3.15 0 1 0 6.3 0a3.15 3.15 0 1 0 -6.3 0M883.76 305.2a3.15 3.15 0 1 0 6.3 0a3.15 3.15 0 1 0 -6.3 0M889.11 308.5a3.15 3.15 0 1 0 6.3 0a3.15 3.15 0 1 0 -6.3 0M894.46 309.4a3.15 3.15 0 1 0 6.3 0a3.15 3.15 0 1 0 -6.3 0M899.8 310.2a3.15 3.15 0 1 0 6.3 0a3.15 3.15 0 1 0 -6.3 0M905.15 308.2a3.15 3.15 0 1 0 6.3 0a3.15 3.15 0 1 0 -6.3 0" fill="#00f000"/><polyline points="68.8,191.7 74.14,185 79.49,187.3 84.83,191.3 90.17,196.9 95.51,199.1 100.86,202.5 106.2,205.8 111.54,208 116.88,210.3 122.23,213.6 127.57,216.3 132.91,217 138.25,219.9 143.6,221.5 148.94,223.7 154.28,225.9 159.63,228.2 164.97,230.4 170.31,231.5 175.65,235.3 181,236.1 186.34,236.9 191.68,235.3 197.02,238 202.37,239.65 207.71,241.3 213.05,242.45 218.39,243.6 223.74,244.15 229.08,244.7 234.42,246.05 239.77,247.4 245.11,248.5 250.45,249.6 255.79,250.5 261.14,251.4 266.48,252.3 271.82,253.2 277.16,254.3 282.51,255.4 287.85,257.7 293.19,255.8 298.54,263.6 303.88,262.7 309.22,261.8 314.56,260.9 319.91,263.6 325.25,265.9 330.59,265.4 335.93,264.1 341.28,265.9 346.62,268.5 351.96,269.9 357.3,270.7 362.65,271.5 367.99,273 373.33,274.4 378.68,274.85 384.02,275.3 389.36,276.6 394.7,278.2 400.05,278.5 405.39,278.85 410.73,279.2 416.07,279.75 421.42,280.3 426.76,283.6 432.1,285.9 437.44,286.8 442.79,287.7 448.13,288.32 453.47,288.94 458.82,289.56 464.16,290.18 469.5,290.8 474.84,291.7 480.19,292.6 485.53,293.5 490.87,294.4 496.21,295.05 501.56,295.7 506.9,296.35 512.24,297 517.58,297.73 522.93,298.45 528.27,299.17 533.61,299.9 538.96,300.57 544.3,301.25 549.64,301.93 554.98,302.6 560.33,303.05 565.67,303.5 571.01,303.95 576.35,304.4 581.7,304.77 587.04,305.15 592.38,305.52 597.72,305.9 603.07,306.28 608.41,306.67 613.75,307.05 619.1,307.43 624.44,307.82 629.78,308.2 635.12,309.2 640.47,310.2 645.81,310.48 651.15,310.76 656.49,311.04 661.84,311.32 667.18,311.6 672.52,312.03 677.86,312.45 683.21,312.88 688.55,313.3 693.89,313.62 699.24,313.95 704.58,314.28 709.92,314.6 715.26,314.88 720.61,315.16 725.95,315.44 731.29,315.72 736.63,316 741.98,316.27 747.32,316.53 752.66,316.8 758.01,317.05 763.35,317.3 768.69,317.55 774.03,317.8 779.38,318 784.72,318.2 790.06,318.4 795.4,318.6 800.75,318.8 806.09,319 811.43,319.2 816.77,319.4 822.12,319.55 827.46,319.7 832.8,319.85 838.15,320 843.49,320.15 848.83,320.3 854.17,320.47 859.52,320.63 864.86,320.8 870.2,320.88 875.54,320.97 880.89,321.05 886.23,321.13 891.57,321.22 896.91,321.3 902.26,321.45 907.6,321.6" fill="none" stroke="#f80000" stroke-width="1"/><path d="M65.65 191.7a3.15 3.15 0 1 0 6.3 0a3.15 3.15 0 1 0 -6.3 0M70.99 185a3.15 3.15 0 1 0 6.3 0a3.15 3.15 0 1 0 -6.3 0M76.34 187.3a3.15 3.15 0 1 0 6.3 0a3.15 3.15 0 1 0 -6.3 0M81.68 191.3a3.15 3.15 0 1 0 6.3 0a3.15 3.15 0 1 0 -6.3 0M87.02 196.9a3.15 3.15 0 1 0 6.3 0a3.15 3.15 0 1 0 -6.3 0M92.36 199.1a3.15 3.15 0 1 0 6.3 0a3.15 3.15 0 1 0 -6.3 0M97.71 202.5a3.15 3.15 0 1 0 6.3 0a3.15 3.15 0 1 0 -6.3 0M103.05 205.8a3.15 3.15 0 1 0 6.3 0a3.15 3.15 0 1 0 -6.3 0M108.39 208a3.15 3.15 0 1 0 6.3 0a3.15 3.15 0 1 0 -6.3 0M113.73 210.3a3.15 3.15 0 1 0 6.3 0a3.15 3.15 0 1 0 -6.3 0M119.08 213.6a3.15 3.15 0 1 0 6.3 0a3.15 3.15 0 1 0 -6.3 0M124.42 216.3a3.15 3.15 0 1 0 6.3 0a3.15 3.15 0 1 0 -6.3 0M129.76 217a3.15 3.15 0 1 0 6.3 0a3.15 3.15 0 1 0 -6.3 0M135.1 219.9a3.15 3.15 0 1 0 6.3 0a3.15 3.15 0 1 0 -6.3 0M140.45 221.5a3.15 3.15 0 1 0 6.3 0a3.15 3.15 0 1 0 -6.3 0M145.79 223.7a3.15 3.15 0 1 0 6.3 0a3.15 3.15 0 1 0 -6.3 0M151.13 225.9a3.15 3.15 0 1 0 6.3 0a3.15 3.15 0 1 0 -6.3 0M156.48 228.2a3.15 3.15 0 1 0 6.3 0a3.15 3.15 0 1 0 -6.3 0M161.82 230.4a3.15 3.15 0 1 0 6.3 0a3.15 3.15 0 1 0 -6.3 0M167.16 231.5a3.15 3.15 0 1 0 6.3 0a3.15 3.15 0 1 0 -6.3 0M172.5 235.3a3.15 3.15 0 1 0 6.3 0a3.15 3.15 0 1 0 -6.3 0M177.85 236.1a3.15 3.15 0 1 0 6.3 0a3.15 3.15 0 1 0 -6.3 0M183.19 236.9a3.15 3.15 0 1 0 6.3 0a3.15 3.15 0 1 0 -6.3 0M188.53 235.3a3.15 3.15 0 1 0 6.3 0a3.15 3.15 0 1 0 -6.3 0M193.87 238a3.15 3.15 0 1 0 6.3 0a3.15 3.15 0 1 0 -6.3 0M199.22 239.65a3.15 3.15 0 1 0 6.3 0a3.15 3.15 0 1 0 -6.3 0M204.56 241.3a3.15 3.15 0 1 0 6.3 0a3.15 3.15 0 1 0 -6.3 0M209.9 242.45a3.15 3.15 0 1 0 6.3 0a3.15 3.15 0 1 0 -6.3 0M215.24 243.6a3.15 3.15 0 1 0 6.3 0a3.15 3.15 0 1 0 -6.3 0M220.59 244.15a3.15 3.15 0 1 0 6.3 0a3.15 3.15 0 1 0 -6.3 0M225.93 244.7a3.15 3.15 0 1 0 6.3 0a3.15 3.15 0 1 0 -6.3 0M231.27 246.05a3.15 3.15 0 1 0 6.3 0a3.15 3.15 0 1 0 -6.3 0M236.62 247.4a3.15 3.15 0 1 0 6.3 0a3.15 3.15 0 1 0 -6.3 0M241.96 248.5a3.15 3.15 0 1 0 6.3 0a3.15 3.15 0 1 0 -6.3 0M247.3 249.6a3.15 3.15 0 1 0 6.3 0a3.15 3.15 0 1 0 -6.3 0M252.64 250.5a3.15 3.15 0 1 0 6.3 0a3.15 3.15 0 1 0 -6.3 0M257.99 251.4a3.15 3.15 0 1 0 6.3 0a3.15 3.15 0 1 0 -6.3 0M263.33 252.3a3.15 3.15 0 1 0 6.3 0a3.15 3.15 0 1 0 -6.3 0M268.67 253.2a3.15 3.15 0 1 0 6.3 0a3.15 3.15 0 1 0 -6.3 0M274.01 254.3a3.15 3.15 0 1 0 6.3 0a3.15 3.15 0 1 0 -6.3 0M279.36 255.4a3.15 3.15 0 1 0 6.3 0a3.15 3.15 0 1 0 -6.3 0M284.7 257.7a3.15 3.15 0 1 0 6.3 0a3.15 3.15 0 1 0 -6.3 0M290.04 255.8a3.15 3.15 0 1 0 6.3 0a3.15 3.15 0 1 0 -6.3 0M295.39 263.6a3.15 3.15 0 1 0 6.3 0a3.15 3.15 0 1 0 -6.3 0M300.73 262.7a3.15 3.15 0 1 0 6.3 0a3.15 3.15 0 1 0 -6.3 0M306.07 261.8a3.15 3.15 0 1 0 6.3 0a3.15 3.15 0 1 0 -6.3 0M311.41 260.9a3.15 3.15 0 1 0 6.3 0a3.15 3.15 0 1 0 -6.3 0M316.76 263.6a3.15 3.15 0 1 0 6.3 0a3.15 3.15 0 1 0 -6.3 0M322.1 265.9a3.15 3.15 0 1 0 6.3 0a3.15 3.15 0 1 0 -6.3 0M327.44 265.4a3.15 3.15 0 1 0 6.3 0a3.15 3.15 0 1 0 -6.3 0M332.78 264.1a3.15 3.15 0 1 0 6.3 0a3.15 3.15 0 1 0 -6.3 0M338.13 265.9a3.15 3.15 0 1 0 6.3 0a3.15 3.15 0 1 0 -6.3 0M343.47 268.5a3.15 3.15 0 1 0 6.3 0a3.15 3.15 0 1 0 -6.3 0M348.81 269.9a3.15 3.15 0 1 0 6.3 0a3.15 3.15 0 1 0 -6.3 0M354.15 270.7a3.15 3.15 0 1 0 6.3 0a3.15 3.15 0 1 0 -6.3 0M359.5 271.5a3.15 3.15 0 1 0 6.3 0a3.15 3.15 0 1 0 -6.3 0M364.84 273a3.15 3.15 0 1 0 6.3 0a3.15 3.15 0 1 0 -6.3 0M370.18 274.4a3.15 3.15 0 1 0 6.3 0a3.15 3.15 0 1 0 -6.3 0M375.53 274.85a3.15 3.15 0 1 0 6.3 0a3.15 3.15 0 1 0 -6.3 0M380.87 275.3a3.15 3.15 0 1 0 6.3 0a3.15 3.15 0 1 0 -6.3 0M386.21 276.6a3.15 3.15 0 1 0 6.3 0a3.15 3.15 0 1 0 -6.3 0M391.55 278.2a3.15 3.15 0 1 0 6.3 0a3.15 3.15 0 1 0 -6.3 0M396.9 278.5a3.15 3.15 0 1 0 6.3 0a3.15 3.15 0 1 0 -6.3 0M402.24 278.85a3.15 3.15 0 1 0 6.3 0a3.15 3.15 0 1 0 -6.3 0M407.58 279.2a3.15 3.15 0 1 0 6.3 0a3.15 3.15 0 1 0 -6.3 0M412.92 279.75a3.15 3.15 0 1 0 6.3 0a3.15 3.15 0 1 0 -6.3 0M418.27 280.3a3.15 3.15 0 1 0 6.3 0a3.15 3.15 0 1 0 -6.3 0M423.61 283.6a3.15 3.15 0 1 0 6.3 0a3.15 3.15 0 1 0 -6.3 0M428.95 285.9a3.15 3.15 0 1 0 6.3 0a3.15 3.15 0 1 0 -6.3 0M434.29 286.8a3.15 3.15 0 1 0 6.3 0a3.15 3.15 0 1 0 -6.3 0M439.64 287.7a3.15 3.15 0 1 0 6.3 0a3.15 3.15 0 1 0 -6.3 0M444.98 288.32a3.15 3.15 0 1 0 6.3 0a3.15 3.15 0 1 0 -6.3 0M450.32 288.94a3.15 3.15 0 1 0 6.3 0a3.15 3.15 0 1 0 -6.3 0M455.67 289.56a3.15 3.15 0 1 0 6.3 0a3.15 3.15 0 1 0 -6.3 0M461.01 290.18a3.15 3.15 0 1 0 6.3 0a3.15 3.15 0 1 0 -6.3 0M466.35 290.8a3.15 3.15 0 1 0 6.3 0a3.15 3.15 0 1 0 -6.3 0M471.69 291.7a3.15 3.15 0 1 0 6.3 0a3.15 3.15 0 1 0 -6.3 0M477.04 292.6a3.15 3.15 0 1 0 6.3 0a3.15 3.15 0 1 0 -6.3 0M482.38 293.5a3.15 3.15 0 1 0 6.3 0a3.15 3.15 0 1 0 -6.3 0M487.72 294.4a3.15 3.15 0 1 0 6.3 0a3.15 3.15 0 1 0 -6.3 0M493.06 295.05a3.15 3.15 0 1 0 6.3 0a3.15 3.15 0 1 0 -6.3 0M498.41 295.7a3.15 3.15 0 1 0 6.3 0a3.15 3.15 0 1 0 -6.3 0M503.75 296.35a3.15 3.15 0 1 0 6.3 0a3.15 3.15 0 1 0 -6.3 0M509.09 297a3.15 3.15 0 1 0 6.3 0a3.15 3.15 0 1 0 -6.3 0M514.43 297.73a3.15 3.15 0 1 0 6.3 0a3.15 3.15 0 1 0 -6.3 0M519.78 298.45a3.15 3.15 0 1 0 6.3 0a3.15 3.15 0 1 0 -6.3 0M525.12 299.17a3.15 3.15 0 1 0 6.3 0a3.15 3.15 0 1 0 -6.3 0M530.46 299.9a3.15 3.15 0 1 0 6.3 0a3.15 3.15 0 1 0 -6.3 0M535.81 300.57a3.15 3.15 0 1 0 6.3 0a3.15 3.15 0 1 0 -6.3 0M541.15 301.25a3.15 3.15 0 1 0 6.3 0a3.15 3.15 0 1 0 -6.3 0M546.49 301.93a3.15 3.15 0 1 0 6.3 0a3.15 3.15 0 1 0 -6.3 0M551.83 302.6a3.15 3.15 0 1 0 6.3 0a3.15 3.15 0 1 0 -6.3 0M557.18 303.05a3.15 3.15 0 1 0 6.3 0a3.15 3.15 0 1 0 -6.3 0M562.52 303.5a3.15 3.15 0 1 0 6.3 0a3.15 3.15 0 1 0 -6.3 0M567.86 303.95a3.15 3.15 0 1 0 6.3 0a3.15 3.15 0 1 0 -6.3 0M573.2 304.4a3.15 3.15 0 1 0 6.3 0a3.15 3.15 0 1 0 -6.3 0M578.55 304.77a3.15 3.15 0 1 0 6.3 0a3.15 3.15 0 1 0 -6.3 0M583.89 305.15a3.15 3.15 0 1 0 6.3 0a3.15 3.15 0 1 0 -6.3 0M589.23 305.52a3.15 3.15 0 1 0 6.3 0a3.15 3.15 0 1 0 -6.3 0M594.57 305.9a3.15 3.15 0 1 0 6.3 0a3.15 3.15 0 1 0 -6.3 0M599.92 306.28a3.15 3.15 0 1 0 6.3 0a3.15 3.15 0 1 0 -6.3 0M605.26 306.67a3.15 3.15 0 1 0 6.3 0a3.15 3.15 0 1 0 -6.3 0M610.6 307.05a3.15 3.15 0 1 0 6.3 0a3.15 3.15 0 1 0 -6.3 0M615.95 307.43a3.15 3.15 0 1 0 6.3 0a3.15 3.15 0 1 0 -6.3 0M621.29 307.82a3.15 3.15 0 1 0 6.3 0a3.15 3.15 0 1 0 -6.3 0M626.63 308.2a3.15 3.15 0 1 0 6.3 0a3.15 3.15 0 1 0 -6.3 0M631.97 309.2a3.15 3.15 0 1 0 6.3 0a3.15 3.15 0 1 0 -6.3 0M637.32 310.2a3.15 3.15 0 1 0 6.3 0a3.15 3.15 0 1 0 -6.3 0M642.66 310.48a3.15 3.15 0 1 0 6.3 0a3.15 3.15 0 1 0 -6.3 0M648 310.76a3.15 3.15 0 1 0 6.3 0a3.15 3.15 0 1 0 -6.3 0M653.34 311.04a3.15 3.15 0 1 0 6.3 0a3.15 3.15 0 1 0 -6.3 0M658.69 311.32a3.15 3.15 0 1 0 6.3 0a3.15 3.15 0 1 0 -6.3 0M664.03 311.6a3.15 3.15 0 1 0 6.3 0a3.15 3.15 0 1 0 -6.3 0M669.37 312.03a3.15 3.15 0 1 0 6.3 0a3.15 3.15 0 1 0 -6.3 0M674.71 312.45a3.15 3.15 0 1 0 6.3 0a3.15 3.15 0 1 0 -6.3 0M680.06 312.88a3.15 3.15 0 1 0 6.3 0a3.15 3.15 0 1 0 -6.3 0M685.4 313.3a3.15 3.15 0 1 0 6.3 0a3.15 3.15 0 1 0 -6.3 0M690.74 313.62a3.15 3.15 0 1 0 6.3 0a3.15 3.15 0 1 0 -6.3 0M696.09 313.95a3.15 3.15 0 1 0 6.3 0a3.15 3.15 0 1 0 -6.3 0M701.43 314.28a3.15 3.15 0 1 0 6.3 0a3.15 3.15 0 1 0 -6.3 0M706.77 314.6a3.15 3.15 0 1 0 6.3 0a3.15 3.15 0 1 0 -6.3 0M712.11 314.88a3.15 3.15 0 1 0 6.3 0a3.15 3.15 0 1 0 -6.3 0M717.46 315.16a3.15 3.15 0 1 0 6.3 0a3.15 3.15 0 1 0 -6.3 0M722.8 315.44a3.15 3.15 0 1 0 6.3 0a3.15 3.15 0 1 0 -6.3 0M728.14 315.72a3.15 3.15 0 1 0 6.3 0a3.15 3.15 0 1 0 -6.3 0M733.48 316a3.15 3.15 0 1 0 6.3 0a3.15 3.15 0 1 0 -6.3 0M738.83 316.27a3.15 3.15 0 1 0 6.3 0a3.15 3.15 0 1 0 -6.3 0M744.17 316.53a3.15 3.15 0 1 0 6.3 0a3.15 3.15 0 1 0 -6.3 0M749.51 316.8a3.15 3.15 0 1 0 6.3 0a3.15 3.15 0 1 0 -6.3 0M754.86 317.05a3.15 3.15 0 1 0 6.3 0a3.15 3.15 0 1 0 -6.3 0M760.2 317.3a3.15 3.15 0 1 0 6.3 0a3.15 3.15 0 1 0 -6.3 0M765.54 317.55a3.15 3.15 0 1 0 6.3 0a3.15 3.15 0 1 0 -6.3 0M770.88 317.8a3.15 3.15 0 1 0 6.3 0a3.15 3.15 0 1 0 -6.3 0M776.23 318a3.15 3.15 0 1 0 6.3 0a3.15 3.15 0 1 0 -6.3 0M781.57 318.2a3.15 3.15 0 1 0 6.3 0a3.15 3.15 0 1 0 -6.3 0M786.91 318.4a3.15 3.15 0 1 0 6.3 0a3.15 3.15 0 1 0 -6.3 0M792.25 318.6a3.15 3.15 0 1 0 6.3 0a3.15 3.15 0 1 0 -6.3 0M797.6 318.8a3.15 3.15 0 1 0 6.3 0a3.15 3.15 0 1 0 -6.3 0M802.94 319a3.15 3.15 0 1 0 6.3 0a3.15 3.15 0 1 0 -6.3 0M808.28 319.2a3.15 3.15 0 1 0 6.3 0a3.15 3.15 0 1 0 -6.3 0M813.62 319.4a3.15 3.15 0 1 0 6.3 0a3.15 3.15 0 1 0 -6.3 0M818.97 319.55a3.15 3.15 0 1 0 6.3 0a3.15 3.15 0 1 0 -6.3 0M824.31 319.7a3.15 3.15 0 1 0 6.3 0a3.15 3.15 0 1 0 -6.3 0M829.65 319.85a3.15 3.15 0 1 0 6.3 0a3.15 3.15 0 1 0 -6.3 0M835 320a3.15 3.15 0 1 0 6.3 0a3.15 3.15 0 1 0 -6.3 0M840.34 320.15a3.15 3.15 0 1 0 6.3 0a3.15 3.15 0 1 0 -6.3 0M845.68 320.3a3.15 3.15 0 1 0 6.3 0a3.15 3.15 0 1 0 -6.3 0M851.02 320.47a3.15 3.15 0 1 0 6.3 0a3.15 3.15 0 1 0 -6.3 0M856.37 320.63a3.15 3.15 0 1 0 6.3 0a3.15 3.15 0 1 0 -6.3 0M861.71 320.8a3.15 3.15 0 1 0 6.3 0a3.15 3.15 0 1 0 -6.3 0M867.05 320.88a3.15 3.15 0 1 0 6.3 0a3.15 3.15 0 1 0 -6.3 0M872.39 320.97a3.15 3.15 0 1 0 6.3 0a3.15 3.15 0 1 0 -6.3 0M877.74 321.05a3.15 3.15 0 1 0 6.3 0a3.15 3.15 0 1 0 -6.3 0M883.08 321.13a3.15 3.15 0 1 0 6.3 0a3.15 3.15 0 1 0 -6.3 0M888.42 321.22a3.15 3.15 0 1 0 6.3 0a3.15 3.15 0 1 0 -6.3 0M893.76 321.3a3.15 3.15 0 1 0 6.3 0a3.15 3.15 0 1 0 -6.3 0M899.11 321.45a3.15 3.15 0 1 0 6.3 0a3.15 3.15 0 1 0 -6.3 0M904.45 321.6a3.15 3.15 0 1 0 6.3 0a3.15 3.15 0 1 0 -6.3 0" fill="#f80000"/><polyline points="68.9,217.7 74.24,223.7 79.59,229.7 84.93,234.9 90.27,240.9 95.61,245.4 100.96,249.4 106.3,253.4 111.64,256.5 116.98,259.4 122.33,261.7 127.67,263.9 133.01,265 138.35,266.8 143.7,268.4 149.04,269.9 154.38,271.7 159.73,272.8 165.07,274 170.41,275.1 175.75,276.2 181.1,276.55 186.44,276.9 191.78,277.25 197.12,277.6 202.47,278.08 207.81,278.55 213.15,279.02 218.49,279.5 223.84,280.02 229.18,280.55 234.52,281.08 239.87,281.6 245.21,282.04 250.55,282.48 255.89,282.92 261.24,283.36 266.58,283.8 271.92,284.24 277.26,284.68 282.61,285.12 287.95,285.56 293.29,286 298.64,286.55 303.98,287.1 309.32,287.65 314.66,288.2 320.01,288.65 325.35,289.1 330.69,289.55 336.03,290 341.38,290.55 346.72,291.1 352.06,291.65 357.4,292.2 362.75,292.43 368.09,292.65 373.43,292.88 378.78,293.1 384.12,293.38 389.46,293.67 394.8,293.95 400.15,294.23 405.49,294.52 410.83,294.8 416.17,295.7 421.52,296.6 426.86,297.15 432.2,297.7 437.54,298.25 442.89,298.8 448.23,299.16 453.57,299.52 458.92,299.88 464.26,300.24 469.6,300.6 474.94,301.03 480.29,301.45 485.63,301.88 490.97,302.3 496.31,302.78 501.66,303.26 507,303.74 512.34,304.22 517.68,304.7 523.03,305.3 528.37,305.9 533.71,306.5 539.06,307.07 544.4,307.65 549.74,308.23 555.08,308.8 560.43,309.2 565.77,309.6 571.11,310 576.45,310.4 581.8,310.8 587.14,311.2 592.48,311.6 597.82,312 603.17,312.28 608.51,312.57 613.85,312.85 619.2,313.13 624.54,313.42 629.88,313.7 635.22,313.95 640.57,314.2 645.91,314.54 651.25,314.88 656.59,315.22 661.94,315.56 667.28,315.9 672.62,316.17 677.96,316.45 683.31,316.73 688.65,317 693.99,317.3 699.34,317.6 704.68,317.9 710.02,318.2 715.36,318.42 720.71,318.64 726.05,318.86 731.39,319.08 736.73,319.3 742.08,319.5 747.42,319.7 752.76,319.9 758.11,320.3 763.45,320.7 768.79,321.1 774.13,321.5 779.48,321.77 784.82,322.05 790.16,322.33 795.5,322.6 800.85,322.7 806.19,322.8 811.53,322.9 816.87,323 822.22,323.05 827.56,323.1 832.9,323.15 838.25,323.2 843.59,323.25 848.93,323.3 854.27,323.4 859.62,323.5 864.96,323.6 870.3,323.67 875.64,323.73 880.99,323.8 886.33,323.87 891.67,323.93 897.01,324 902.36,324.25 907.7,324.5" fill="none" stroke="#00f4f4" stroke-width="1"/><path d="M65.75 217.7a3.15 3.15 0 1 0 6.3 0a3.15 3.15 0 1 0 -6.3 0M71.09 223.7a3.15 3.15 0 1 0 6.3 0a3.15 3.15 0 1 0 -6.3 0M76.44 229.7a3.15 3.15 0 1 0 6.3 0a3.15 3.15 0 1 0 -6.3 0M81.78 234.9a3.15 3.15 0 1 0 6.3 0a3.15 3.15 0 1 0 -6.3 0M87.12 240.9a3.15 3.15 0 1 0 6.3 0a3.15 3.15 0 1 0 -6.3 0M92.46 245.4a3.15 3.15 0 1 0 6.3 0a3.15 3.15 0 1 0 -6.3 0M97.81 249.4a3.15 3.15 0 1 0 6.3 0a3.15 3.15 0 1 0 -6.3 0M103.15 253.4a3.15 3.15 0 1 0 6.3 0a3.15 3.15 0 1 0 -6.3 0M108.49 256.5a3.15 3.15 0 1 0 6.3 0a3.15 3.15 0 1 0 -6.3 0M113.83 259.4a3.15 3.15 0 1 0 6.3 0a3.15 3.15 0 1 0 -6.3 0M119.18 261.7a3.15 3.15 0 1 0 6.3 0a3.15 3.15 0 1 0 -6.3 0M124.52 263.9a3.15 3.15 0 1 0 6.3 0a3.15 3.15 0 1 0 -6.3 0M129.86 265a3.15 3.15 0 1 0 6.3 0a3.15 3.15 0 1 0 -6.3 0M135.2 266.8a3.15 3.15 0 1 0 6.3 0a3.15 3.15 0 1 0 -6.3 0M140.55 268.4a3.15 3.15 0 1 0 6.3 0a3.15 3.15 0 1 0 -6.3 0M145.89 269.9a3.15 3.15 0 1 0 6.3 0a3.15 3.15 0 1 0 -6.3 0M151.23 271.7a3.15 3.15 0 1 0 6.3 0a3.15 3.15 0 1 0 -6.3 0M156.58 272.8a3.15 3.15 0 1 0 6.3 0a3.15 3.15 0 1 0 -6.3 0M161.92 274a3.15 3.15 0 1 0 6.3 0a3.15 3.15 0 1 0 -6.3 0M167.26 275.1a3.15 3.15 0 1 0 6.3 0a3.15 3.15 0 1 0 -6.3 0M172.6 276.2a3.15 3.15 0 1 0 6.3 0a3.15 3.15 0 1 0 -6.3 0M177.95 276.55a3.15 3.15 0 1 0 6.3 0a3.15 3.15 0 1 0 -6.3 0M183.29 276.9a3.15 3.15 0 1 0 6.3 0a3.15 3.15 0 1 0 -6.3 0M188.63 277.25a3.15 3.15 0 1 0 6.3 0a3.15 3.15 0 1 0 -6.3 0M193.97 277.6a3.15 3.15 0 1 0 6.3 0a3.15 3.15 0 1 0 -6.3 0M199.32 278.08a3.15 3.15 0 1 0 6.3 0a3.15 3.15 0 1 0 -6.3 0M204.66 278.55a3.15 3.15 0 1 0 6.3 0a3.15 3.15 0 1 0 -6.3 0M210 279.02a3.15 3.15 0 1 0 6.3 0a3.15 3.15 0 1 0 -6.3 0M215.34 279.5a3.15 3.15 0 1 0 6.3 0a3.15 3.15 0 1 0 -6.3 0M220.69 280.02a3.15 3.15 0 1 0 6.3 0a3.15 3.15 0 1 0 -6.3 0M226.03 280.55a3.15 3.15 0 1 0 6.3 0a3.15 3.15 0 1 0 -6.3 0M231.37 281.08a3.15 3.15 0 1 0 6.3 0a3.15 3.15 0 1 0 -6.3 0M236.72 281.6a3.15 3.15 0 1 0 6.3 0a3.15 3.15 0 1 0 -6.3 0M242.06 282.04a3.15 3.15 0 1 0 6.3 0a3.15 3.15 0 1 0 -6.3 0M247.4 282.48a3.15 3.15 0 1 0 6.3 0a3.15 3.15 0 1 0 -6.3 0M252.74 282.92a3.15 3.15 0 1 0 6.3 0a3.15 3.15 0 1 0 -6.3 0M258.09 283.36a3.15 3.15 0 1 0 6.3 0a3.15 3.15 0 1 0 -6.3 0M263.43 283.8a3.15 3.15 0 1 0 6.3 0a3.15 3.15 0 1 0 -6.3 0M268.77 284.24a3.15 3.15 0 1 0 6.3 0a3.15 3.15 0 1 0 -6.3 0M274.11 284.68a3.15 3.15 0 1 0 6.3 0a3.15 3.15 0 1 0 -6.3 0M279.46 285.12a3.15 3.15 0 1 0 6.3 0a3.15 3.15 0 1 0 -6.3 0M284.8 285.56a3.15 3.15 0 1 0 6.3 0a3.15 3.15 0 1 0 -6.3 0M290.14 286a3.15 3.15 0 1 0 6.3 0a3.15 3.15 0 1 0 -6.3 0M295.49 286.55a3.15 3.15 0 1 0 6.3 0a3.15 3.15 0 1 0 -6.3 0M300.83 287.1a3.15 3.15 0 1 0 6.3 0a3.15 3.15 0 1 0 -6.3 0M306.17 287.65a3.15 3.15 0 1 0 6.3 0a3.15 3.15 0 1 0 -6.3 0M311.51 288.2a3.15 3.15 0 1 0 6.3 0a3.15 3.15 0 1 0 -6.3 0M316.86 288.65a3.15 3.15 0 1 0 6.3 0a3.15 3.15 0 1 0 -6.3 0M322.2 289.1a3.15 3.15 0 1 0 6.3 0a3.15 3.15 0 1 0 -6.3 0M327.54 289.55a3.15 3.15 0 1 0 6.3 0a3.15 3.15 0 1 0 -6.3 0M332.88 290a3.15 3.15 0 1 0 6.3 0a3.15 3.15 0 1 0 -6.3 0M338.23 290.55a3.15 3.15 0 1 0 6.3 0a3.15 3.15 0 1 0 -6.3 0M343.57 291.1a3.15 3.15 0 1 0 6.3 0a3.15 3.15 0 1 0 -6.3 0M348.91 291.65a3.15 3.15 0 1 0 6.3 0a3.15 3.15 0 1 0 -6.3 0M354.25 292.2a3.15 3.15 0 1 0 6.3 0a3.15 3.15 0 1 0 -6.3 0M359.6 292.43a3.15 3.15 0 1 0 6.3 0a3.15 3.15 0 1 0 -6.3 0M364.94 292.65a3.15 3.15 0 1 0 6.3 0a3.15 3.15 0 1 0 -6.3 0M370.28 292.88a3.15 3.15 0 1 0 6.3 0a3.15 3.15 0 1 0 -6.3 0M375.63 293.1a3.15 3.15 0 1 0 6.3 0a3.15 3.15 0 1 0 -6.3 0M380.97 293.38a3.15 3.15 0 1 0 6.3 0a3.15 3.15 0 1 0 -6.3 0M386.31 293.67a3.15 3.15 0 1 0 6.3 0a3.15 3.15 0 1 0 -6.3 0M391.65 293.95a3.15 3.15 0 1 0 6.3 0a3.15 3.15 0 1 0 -6.3 0M397 294.23a3.15 3.15 0 1 0 6.3 0a3.15 3.15 0 1 0 -6.3 0M402.34 294.52a3.15 3.15 0 1 0 6.3 0a3.15 3.15 0 1 0 -6.3 0M407.68 294.8a3.15 3.15 0 1 0 6.3 0a3.15 3.15 0 1 0 -6.3 0M413.02 295.7a3.15 3.15 0 1 0 6.3 0a3.15 3.15 0 1 0 -6.3 0M418.37 296.6a3.15 3.15 0 1 0 6.3 0a3.15 3.15 0 1 0 -6.3 0M423.71 297.15a3.15 3.15 0 1 0 6.3 0a3.15 3.15 0 1 0 -6.3 0M429.05 297.7a3.15 3.15 0 1 0 6.3 0a3.15 3.15 0 1 0 -6.3 0M434.39 298.25a3.15 3.15 0 1 0 6.3 0a3.15 3.15 0 1 0 -6.3 0M439.74 298.8a3.15 3.15 0 1 0 6.3 0a3.15 3.15 0 1 0 -6.3 0M445.08 299.16a3.15 3.15 0 1 0 6.3 0a3.15 3.15 0 1 0 -6.3 0M450.42 299.52a3.15 3.15 0 1 0 6.3 0a3.15 3.15 0 1 0 -6.3 0M455.77 299.88a3.15 3.15 0 1 0 6.3 0a3.15 3.15 0 1 0 -6.3 0M461.11 300.24a3.15 3.15 0 1 0 6.3 0a3.15 3.15 0 1 0 -6.3 0M466.45 300.6a3.15 3.15 0 1 0 6.3 0a3.15 3.15 0 1 0 -6.3 0M471.79 301.03a3.15 3.15 0 1 0 6.3 0a3.15 3.15 0 1 0 -6.3 0M477.14 301.45a3.15 3.15 0 1 0 6.3 0a3.15 3.15 0 1 0 -6.3 0M482.48 301.88a3.15 3.15 0 1 0 6.3 0a3.15 3.15 0 1 0 -6.3 0M487.82 302.3a3.15 3.15 0 1 0 6.3 0a3.15 3.15 0 1 0 -6.3 0M493.16 302.78a3.15 3.15 0 1 0 6.3 0a3.15 3.15 0 1 0 -6.3 0M498.51 303.26a3.15 3.15 0 1 0 6.3 0a3.15 3.15 0 1 0 -6.3 0M503.85 303.74a3.15 3.15 0 1 0 6.3 0a3.15 3.15 0 1 0 -6.3 0M509.19 304.22a3.15 3.15 0 1 0 6.3 0a3.15 3.15 0 1 0 -6.3 0M514.53 304.7a3.15 3.15 0 1 0 6.3 0a3.15 3.15 0 1 0 -6.3 0M519.88 305.3a3.15 3.15 0 1 0 6.3 0a3.15 3.15 0 1 0 -6.3 0M525.22 305.9a3.15 3.15 0 1 0 6.3 0a3.15 3.15 0 1 0 -6.3 0M530.56 306.5a3.15 3.15 0 1 0 6.3 0a3.15 3.15 0 1 0 -6.3 0M535.91 307.07a3.15 3.15 0 1 0 6.3 0a3.15 3.15 0 1 0 -6.3 0M541.25 307.65a3.15 3.15 0 1 0 6.3 0a3.15 3.15 0 1 0 -6.3 0M546.59 308.23a3.15 3.15 0 1 0 6.3 0a3.15 3.15 0 1 0 -6.3 0M551.93 308.8a3.15 3.15 0 1 0 6.3 0a3.15 3.15 0 1 0 -6.3 0M557.28 309.2a3.15 3.15 0 1 0 6.3 0a3.15 3.15 0 1 0 -6.3 0M562.62 309.6a3.15 3.15 0 1 0 6.3 0a3.15 3.15 0 1 0 -6.3 0M567.96 310a3.15 3.15 0 1 0 6.3 0a3.15 3.15 0 1 0 -6.3 0M573.3 310.4a3.15 3.15 0 1 0 6.3 0a3.15 3.15 0 1 0 -6.3 0M578.65 310.8a3.15 3.15 0 1 0 6.3 0a3.15 3.15 0 1 0 -6.3 0M583.99 311.2a3.15 3.15 0 1 0 6.3 0a3.15 3.15 0 1 0 -6.3 0M589.33 311.6a3.15 3.15 0 1 0 6.3 0a3.15 3.15 0 1 0 -6.3 0M594.67 312a3.15 3.15 0 1 0 6.3 0a3.15 3.15 0 1 0 -6.3 0M600.02 312.28a3.15 3.15 0 1 0 6.3 0a3.15 3.15 0 1 0 -6.3 0M605.36 312.57a3.15 3.15 0 1 0 6.3 0a3.15 3.15 0 1 0 -6.3 0M610.7 312.85a3.15 3.15 0 1 0 6.3 0a3.15 3.15 0 1 0 -6.3 0M616.05 313.13a3.15 3.15 0 1 0 6.3 0a3.15 3.15 0 1 0 -6.3 0M621.39 313.42a3.15 3.15 0 1 0 6.3 0a3.15 3.15 0 1 0 -6.3 0M626.73 313.7a3.15 3.15 0 1 0 6.3 0a3.15 3.15 0 1 0 -6.3 0M632.07 313.95a3.15 3.15 0 1 0 6.3 0a3.15 3.15 0 1 0 -6.3 0M637.42 314.2a3.15 3.15 0 1 0 6.3 0a3.15 3.15 0 1 0 -6.3 0M642.76 314.54a3.15 3.15 0 1 0 6.3 0a3.15 3.15 0 1 0 -6.3 0M648.1 314.88a3.15 3.15 0 1 0 6.3 0a3.15 3.15 0 1 0 -6.3 0M653.44 315.22a3.15 3.15 0 1 0 6.3 0a3.15 3.15 0 1 0 -6.3 0M658.79 315.56a3.15 3.15 0 1 0 6.3 0a3.15 3.15 0 1 0 -6.3 0M664.13 315.9a3.15 3.15 0 1 0 6.3 0a3.15 3.15 0 1 0 -6.3 0M669.47 316.17a3.15 3.15 0 1 0 6.3 0a3.15 3.15 0 1 0 -6.3 0M674.81 316.45a3.15 3.15 0 1 0 6.3 0a3.15 3.15 0 1 0 -6.3 0M680.16 316.73a3.15 3.15 0 1 0 6.3 0a3.15 3.15 0 1 0 -6.3 0M685.5 317a3.15 3.15 0 1 0 6.3 0a3.15 3.15 0 1 0 -6.3 0M690.84 317.3a3.15 3.15 0 1 0 6.3 0a3.15 3.15 0 1 0 -6.3 0M696.19 317.6a3.15 3.15 0 1 0 6.3 0a3.15 3.15 0 1 0 -6.3 0M701.53 317.9a3.15 3.15 0 1 0 6.3 0a3.15 3.15 0 1 0 -6.3 0M706.87 318.2a3.15 3.15 0 1 0 6.3 0a3.15 3.15 0 1 0 -6.3 0M712.21 318.42a3.15 3.15 0 1 0 6.3 0a3.15 3.15 0 1 0 -6.3 0M717.56 318.64a3.15 3.15 0 1 0 6.3 0a3.15 3.15 0 1 0 -6.3 0M722.9 318.86a3.15 3.15 0 1 0 6.3 0a3.15 3.15 0 1 0 -6.3 0M728.24 319.08a3.15 3.15 0 1 0 6.3 0a3.15 3.15 0 1 0 -6.3 0M733.58 319.3a3.15 3.15 0 1 0 6.3 0a3.15 3.15 0 1 0 -6.3 0M738.93 319.5a3.15 3.15 0 1 0 6.3 0a3.15 3.15 0 1 0 -6.3 0M744.27 319.7a3.15 3.15 0 1 0 6.3 0a3.15 3.15 0 1 0 -6.3 0M749.61 319.9a3.15 3.15 0 1 0 6.3 0a3.15 3.15 0 1 0 -6.3 0M754.96 320.3a3.15 3.15 0 1 0 6.3 0a3.15 3.15 0 1 0 -6.3 0M760.3 320.7a3.15 3.15 0 1 0 6.3 0a3.15 3.15 0 1 0 -6.3 0M765.64 321.1a3.15 3.15 0 1 0 6.3 0a3.15 3.15 0 1 0 -6.3 0M770.98 321.5a3.15 3.15 0 1 0 6.3 0a3.15 3.15 0 1 0 -6.3 0M776.33 321.77a3.15 3.15 0 1 0 6.3 0a3.15 3.15 0 1 0 -6.3 0M781.67 322.05a3.15 3.15 0 1 0 6.3 0a3.15 3.15 0 1 0 -6.3 0M787.01 322.33a3.15 3.15 0 1 0 6.3 0a3.15 3.15 0 1 0 -6.3 0M792.35 322.6a3.15 3.15 0 1 0 6.3 0a3.15 3.15 0 1 0 -6.3 0M797.7 322.7a3.15 3.15 0 1 0 6.3 0a3.15 3.15 0 1 0 -6.3 0M803.04 322.8a3.15 3.15 0 1 0 6.3 0a3.15 3.15 0 1 0 -6.3 0M808.38 322.9a3.15 3.15 0 1 0 6.3 0a3.15 3.15 0 1 0 -6.3 0M813.72 323a3.15 3.15 0 1 0 6.3 0a3.15 3.15 0 1 0 -6.3 0M819.07 323.05a3.15 3.15 0 1 0 6.3 0a3.15 3.15 0 1 0 -6.3 0M824.41 323.1a3.15 3.15 0 1 0 6.3 0a3.15 3.15 0 1 0 -6.3 0M829.75 323.15a3.15 3.15 0 1 0 6.3 0a3.15 3.15 0 1 0 -6.3 0M835.1 323.2a3.15 3.15 0 1 0 6.3 0a3.15 3.15 0 1 0 -6.3 0M840.44 323.25a3.15 3.15 0 1 0 6.3 0a3.15 3.15 0 1 0 -6.3 0M845.78 323.3a3.15 3.15 0 1 0 6.3 0a3.15 3.15 0 1 0 -6.3 0M851.12 323.4a3.15 3.15 0 1 0 6.3 0a3.15 3.15 0 1 0 -6.3 0M856.47 323.5a3.15 3.15 0 1 0 6.3 0a3.15 3.15 0 1 0 -6.3 0M861.81 323.6a3.15 3.15 0 1 0 6.3 0a3.15 3.15 0 1 0 -6.3 0M867.15 323.67a3.15 3.15 0 1 0 6.3 0a3.15 3.15 0 1 0 -6.3 0M872.49 323.73a3.15 3.15 0 1 0 6.3 0a3.15 3.15 0 1 0 -6.3 0M877.84 323.8a3.15 3.15 0 1 0 6.3 0a3.15 3.15 0 1 0 -6.3 0M883.18 323.87a3.15 3.15 0 1 0 6.3 0a3.15 3.15 0 1 0 -6.3 0M888.52 323.93a3.15 3.15 0 1 0 6.3 0a3.15 3.15 0 1 0 -6.3 0M893.86 324a3.15 3.15 0 1 0 6.3 0a3.15 3.15 0 1 0 -6.3 0M899.21 324.25a3.15 3.15 0 1 0 6.3 0a3.15 3.15 0 1 0 -6.3 0M904.55 324.5a3.15 3.15 0 1 0 6.3 0a3.15 3.15 0 1 0 -6.3 0" fill="#00f4f4"/><polyline points="70.3,71.7 75.63,75.9 80.96,78.9 86.29,79.3 91.61,80.6 96.94,81.1 102.27,83.5 107.6,86.1 112.93,88 118.26,90.2 123.59,92.3 128.92,94.9 134.24,96.8 139.57,99.4 144.9,101.7 150.23,104.3 155.56,106.9 160.89,109.8 166.22,112.4 171.54,114.8 176.87,117.6 182.2,121 187.53,124.3 192.86,128 198.19,132 203.52,136.5 208.85,140.9 214.17,145.4 219.5,150.3 224.83,156.3 230.16,162.2 235.49,170.6 240.82,180.1 246.15,190.4 251.47,201.3 256.8,210.6 262.13,219 267.46,225.5 272.79,230 278.12,235.2 283.45,241.1 288.78,246.4 294.1,254.7 299.43,259 304.76,262.7 310.09,268.9 315.42,273.7 320.75,279.3 326.08,282 331.4,283.7 336.73,285.5 342.06,287.1 347.39,288.2 352.72,289.3 358.05,290.9 363.38,292.2 368.71,292.7 374.03,293.1 379.36,293.8 384.69,294.5 390.02,294.7 395.35,294.9 400.68,296 406.01,298.9 411.33,301.1 416.66,300.95 421.99,300.8 427.32,302 432.65,303.2 437.98,307.1 443.31,307.1 448.64,307.38 453.96,307.65 459.29,307.93 464.62,308.2 469.95,308.42 475.28,308.64 480.61,308.86 485.94,309.08 491.26,309.3 496.59,309.76 501.92,310.22 507.25,310.68 512.58,311.14 517.91,311.6 523.24,311.93 528.56,312.27 533.89,312.6 539.22,313.75 544.55,314.9 549.88,314.55 555.21,314.2 560.54,313.8 565.87,313.4 571.19,313 576.52,312.6 581.85,312.05 587.18,311.5 592.51,310.95 597.84,310.4 603.17,310.05 608.49,309.7 613.82,310.85 619.15,312 624.48,313.5 629.81,315 635.14,315.45 640.47,315.9 645.8,316.36 651.12,316.82 656.45,317.28 661.78,317.74 667.11,318.2 672.44,320.4 677.77,320.77 683.1,321.13 688.42,321.5 693.75,321.62 699.08,321.75 704.41,321.88 709.74,322 715.07,322.26 720.4,322.52 725.73,322.78 731.05,323.04 736.38,323.3 741.71,323.8 747.04,324.3 752.37,324.8 757.7,325.35 763.03,325.9 768.35,326.45 773.68,327 779.01,327.3 784.34,327.6 789.67,327.9 795,328.2 800.33,328.42 805.66,328.64 810.98,328.86 816.31,329.08 821.64,329.3 826.97,329.15 832.3,329 837.63,328.4 842.96,327.8 848.28,328.53 853.61,329.27 858.94,330 864.27,328.65 869.6,327.3 874.93,327.63 880.26,327.97 885.59,328.3 890.91,329.15 896.24,330 901.57,330.7 906.9,325.3" fill="none" stroke="#0000f8" stroke-width="1"/><path d="M67.15 71.7a3.15 3.15 0 1 0 6.3 0a3.15 3.15 0 1 0 -6.3 0M72.48 75.9a3.15 3.15 0 1 0 6.3 0a3.15 3.15 0 1 0 -6.3 0M77.81 78.9a3.15 3.15 0 1 0 6.3 0a3.15 3.15 0 1 0 -6.3 0M83.14 79.3a3.15 3.15 0 1 0 6.3 0a3.15 3.15 0 1 0 -6.3 0M88.46 80.6a3.15 3.15 0 1 0 6.3 0a3.15 3.15 0 1 0 -6.3 0M93.79 81.1a3.15 3.15 0 1 0 6.3 0a3.15 3.15 0 1 0 -6.3 0M99.12 83.5a3.15 3.15 0 1 0 6.3 0a3.15 3.15 0 1 0 -6.3 0M104.45 86.1a3.15 3.15 0 1 0 6.3 0a3.15 3.15 0 1 0 -6.3 0M109.78 88a3.15 3.15 0 1 0 6.3 0a3.15 3.15 0 1 0 -6.3 0M115.11 90.2a3.15 3.15 0 1 0 6.3 0a3.15 3.15 0 1 0 -6.3 0M120.44 92.3a3.15 3.15 0 1 0 6.3 0a3.15 3.15 0 1 0 -6.3 0M125.77 94.9a3.15 3.15 0 1 0 6.3 0a3.15 3.15 0 1 0 -6.3 0M131.09 96.8a3.15 3.15 0 1 0 6.3 0a3.15 3.15 0 1 0 -6.3 0M136.42 99.4a3.15 3.15 0 1 0 6.3 0a3.15 3.15 0 1 0 -6.3 0M141.75 101.7a3.15 3.15 0 1 0 6.3 0a3.15 3.15 0 1 0 -6.3 0M147.08 104.3a3.15 3.15 0 1 0 6.3 0a3.15 3.15 0 1 0 -6.3 0M152.41 106.9a3.15 3.15 0 1 0 6.3 0a3.15 3.15 0 1 0 -6.3 0M157.74 109.8a3.15 3.15 0 1 0 6.3 0a3.15 3.15 0 1 0 -6.3 0M163.07 112.4a3.15 3.15 0 1 0 6.3 0a3.15 3.15 0 1 0 -6.3 0M168.39 114.8a3.15 3.15 0 1 0 6.3 0a3.15 3.15 0 1 0 -6.3 0M173.72 117.6a3.15 3.15 0 1 0 6.3 0a3.15 3.15 0 1 0 -6.3 0M179.05 121a3.15 3.15 0 1 0 6.3 0a3.15 3.15 0 1 0 -6.3 0M184.38 124.3a3.15 3.15 0 1 0 6.3 0a3.15 3.15 0 1 0 -6.3 0M189.71 128a3.15 3.15 0 1 0 6.3 0a3.15 3.15 0 1 0 -6.3 0M195.04 132a3.15 3.15 0 1 0 6.3 0a3.15 3.15 0 1 0 -6.3 0M200.37 136.5a3.15 3.15 0 1 0 6.3 0a3.15 3.15 0 1 0 -6.3 0M205.7 140.9a3.15 3.15 0 1 0 6.3 0a3.15 3.15 0 1 0 -6.3 0M211.02 145.4a3.15 3.15 0 1 0 6.3 0a3.15 3.15 0 1 0 -6.3 0M216.35 150.3a3.15 3.15 0 1 0 6.3 0a3.15 3.15 0 1 0 -6.3 0M221.68 156.3a3.15 3.15 0 1 0 6.3 0a3.15 3.15 0 1 0 -6.3 0M227.01 162.2a3.15 3.15 0 1 0 6.3 0a3.15 3.15 0 1 0 -6.3 0M232.34 170.6a3.15 3.15 0 1 0 6.3 0a3.15 3.15 0 1 0 -6.3 0M237.67 180.1a3.15 3.15 0 1 0 6.3 0a3.15 3.15 0 1 0 -6.3 0M243 190.4a3.15 3.15 0 1 0 6.3 0a3.15 3.15 0 1 0 -6.3 0M248.32 201.3a3.15 3.15 0 1 0 6.3 0a3.15 3.15 0 1 0 -6.3 0M253.65 210.6a3.15 3.15 0 1 0 6.3 0a3.15 3.15 0 1 0 -6.3 0M258.98 219a3.15 3.15 0 1 0 6.3 0a3.15 3.15 0 1 0 -6.3 0M264.31 225.5a3.15 3.15 0 1 0 6.3 0a3.15 3.15 0 1 0 -6.3 0M269.64 230a3.15 3.15 0 1 0 6.3 0a3.15 3.15 0 1 0 -6.3 0M274.97 235.2a3.15 3.15 0 1 0 6.3 0a3.15 3.15 0 1 0 -6.3 0M280.3 241.1a3.15 3.15 0 1 0 6.3 0a3.15 3.15 0 1 0 -6.3 0M285.63 246.4a3.15 3.15 0 1 0 6.3 0a3.15 3.15 0 1 0 -6.3 0M290.95 254.7a3.15 3.15 0 1 0 6.3 0a3.15 3.15 0 1 0 -6.3 0M296.28 259a3.15 3.15 0 1 0 6.3 0a3.15 3.15 0 1 0 -6.3 0M301.61 262.7a3.15 3.15 0 1 0 6.3 0a3.15 3.15 0 1 0 -6.3 0M306.94 268.9a3.15 3.15 0 1 0 6.3 0a3.15 3.15 0 1 0 -6.3 0M312.27 273.7a3.15 3.15 0 1 0 6.3 0a3.15 3.15 0 1 0 -6.3 0M317.6 279.3a3.15 3.15 0 1 0 6.3 0a3.15 3.15 0 1 0 -6.3 0M322.93 282a3.15 3.15 0 1 0 6.3 0a3.15 3.15 0 1 0 -6.3 0M328.25 283.7a3.15 3.15 0 1 0 6.3 0a3.15 3.15 0 1 0 -6.3 0M333.58 285.5a3.15 3.15 0 1 0 6.3 0a3.15 3.15 0 1 0 -6.3 0M338.91 287.1a3.15 3.15 0 1 0 6.3 0a3.15 3.15 0 1 0 -6.3 0M344.24 288.2a3.15 3.15 0 1 0 6.3 0a3.15 3.15 0 1 0 -6.3 0M349.57 289.3a3.15 3.15 0 1 0 6.3 0a3.15 3.15 0 1 0 -6.3 0M354.9 290.9a3.15 3.15 0 1 0 6.3 0a3.15 3.15 0 1 0 -6.3 0M360.23 292.2a3.15 3.15 0 1 0 6.3 0a3.15 3.15 0 1 0 -6.3 0M365.56 292.7a3.15 3.15 0 1 0 6.3 0a3.15 3.15 0 1 0 -6.3 0M370.88 293.1a3.15 3.15 0 1 0 6.3 0a3.15 3.15 0 1 0 -6.3 0M376.21 293.8a3.15 3.15 0 1 0 6.3 0a3.15 3.15 0 1 0 -6.3 0M381.54 294.5a3.15 3.15 0 1 0 6.3 0a3.15 3.15 0 1 0 -6.3 0M386.87 294.7a3.15 3.15 0 1 0 6.3 0a3.15 3.15 0 1 0 -6.3 0M392.2 294.9a3.15 3.15 0 1 0 6.3 0a3.15 3.15 0 1 0 -6.3 0M397.53 296a3.15 3.15 0 1 0 6.3 0a3.15 3.15 0 1 0 -6.3 0M402.86 298.9a3.15 3.15 0 1 0 6.3 0a3.15 3.15 0 1 0 -6.3 0M408.18 301.1a3.15 3.15 0 1 0 6.3 0a3.15 3.15 0 1 0 -6.3 0M413.51 300.95a3.15 3.15 0 1 0 6.3 0a3.15 3.15 0 1 0 -6.3 0M418.84 300.8a3.15 3.15 0 1 0 6.3 0a3.15 3.15 0 1 0 -6.3 0M424.17 302a3.15 3.15 0 1 0 6.3 0a3.15 3.15 0 1 0 -6.3 0M429.5 303.2a3.15 3.15 0 1 0 6.3 0a3.15 3.15 0 1 0 -6.3 0M434.83 307.1a3.15 3.15 0 1 0 6.3 0a3.15 3.15 0 1 0 -6.3 0M440.16 307.1a3.15 3.15 0 1 0 6.3 0a3.15 3.15 0 1 0 -6.3 0M445.49 307.38a3.15 3.15 0 1 0 6.3 0a3.15 3.15 0 1 0 -6.3 0M450.81 307.65a3.15 3.15 0 1 0 6.3 0a3.15 3.15 0 1 0 -6.3 0M456.14 307.93a3.15 3.15 0 1 0 6.3 0a3.15 3.15 0 1 0 -6.3 0M461.47 308.2a3.15 3.15 0 1 0 6.3 0a3.15 3.15 0 1 0 -6.3 0M466.8 308.42a3.15 3.15 0 1 0 6.3 0a3.15 3.15 0 1 0 -6.3 0M472.13 308.64a3.15 3.15 0 1 0 6.3 0a3.15 3.15 0 1 0 -6.3 0M477.46 308.86a3.15 3.15 0 1 0 6.3 0a3.15 3.15 0 1 0 -6.3 0M482.79 309.08a3.15 3.15 0 1 0 6.3 0a3.15 3.15 0 1 0 -6.3 0M488.11 309.3a3.15 3.15 0 1 0 6.3 0a3.15 3.15 0 1 0 -6.3 0M493.44 309.76a3.15 3.15 0 1 0 6.3 0a3.15 3.15 0 1 0 -6.3 0M498.77 310.22a3.15 3.15 0 1 0 6.3 0a3.15 3.15 0 1 0 -6.3 0M504.1 310.68a3.15 3.15 0 1 0 6.3 0a3.15 3.15 0 1 0 -6.3 0M509.43 311.14a3.15 3.15 0 1 0 6.3 0a3.15 3.15 0 1 0 -6.3 0M514.76 311.6a3.15 3.15 0 1 0 6.3 0a3.15 3.15 0 1 0 -6.3 0M520.09 311.93a3.15 3.15 0 1 0 6.3 0a3.15 3.15 0 1 0 -6.3 0M525.41 312.27a3.15 3.15 0 1 0 6.3 0a3.15 3.15 0 1 0 -6.3 0M530.74 312.6a3.15 3.15 0 1 0 6.3 0a3.15 3.15 0 1 0 -6.3 0M536.07 313.75a3.15 3.15 0 1 0 6.3 0a3.15 3.15 0 1 0 -6.3 0M541.4 314.9a3.15 3.15 0 1 0 6.3 0a3.15 3.15 0 1 0 -6.3 0M546.73 314.55a3.15 3.15 0 1 0 6.3 0a3.15 3.15 0 1 0 -6.3 0M552.06 314.2a3.15 3.15 0 1 0 6.3 0a3.15 3.15 0 1 0 -6.3 0M557.39 313.8a3.15 3.15 0 1 0 6.3 0a3.15 3.15 0 1 0 -6.3 0M562.72 313.4a3.15 3.15 0 1 0 6.3 0a3.15 3.15 0 1 0 -6.3 0M568.04 313a3.15 3.15 0 1 0 6.3 0a3.15 3.15 0 1 0 -6.3 0M573.37 312.6a3.15 3.15 0 1 0 6.3 0a3.15 3.15 0 1 0 -6.3 0M578.7 312.05a3.15 3.15 0 1 0 6.3 0a3.15 3.15 0 1 0 -6.3 0M584.03 311.5a3.15 3.15 0 1 0 6.3 0a3.15 3.15 0 1 0 -6.3 0M589.36 310.95a3.15 3.15 0 1 0 6.3 0a3.15 3.15 0 1 0 -6.3 0M594.69 310.4a3.15 3.15 0 1 0 6.3 0a3.15 3.15 0 1 0 -6.3 0M600.02 310.05a3.15 3.15 0 1 0 6.3 0a3.15 3.15 0 1 0 -6.3 0M605.34 309.7a3.15 3.15 0 1 0 6.3 0a3.15 3.15 0 1 0 -6.3 0M610.67 310.85a3.15 3.15 0 1 0 6.3 0a3.15 3.15 0 1 0 -6.3 0M616 312a3.15 3.15 0 1 0 6.3 0a3.15 3.15 0 1 0 -6.3 0M621.33 313.5a3.15 3.15 0 1 0 6.3 0a3.15 3.15 0 1 0 -6.3 0M626.66 315a3.15 3.15 0 1 0 6.3 0a3.15 3.15 0 1 0 -6.3 0M631.99 315.45a3.15 3.15 0 1 0 6.3 0a3.15 3.15 0 1 0 -6.3 0M637.32 315.9a3.15 3.15 0 1 0 6.3 0a3.15 3.15 0 1 0 -6.3 0M642.65 316.36a3.15 3.15 0 1 0 6.3 0a3.15 3.15 0 1 0 -6.3 0M647.97 316.82a3.15 3.15 0 1 0 6.3 0a3.15 3.15 0 1 0 -6.3 0M653.3 317.28a3.15 3.15 0 1 0 6.3 0a3.15 3.15 0 1 0 -6.3 0M658.63 317.74a3.15 3.15 0 1 0 6.3 0a3.15 3.15 0 1 0 -6.3 0M663.96 318.2a3.15 3.15 0 1 0 6.3 0a3.15 3.15 0 1 0 -6.3 0M669.29 320.4a3.15 3.15 0 1 0 6.3 0a3.15 3.15 0 1 0 -6.3 0M674.62 320.77a3.15 3.15 0 1 0 6.3 0a3.15 3.15 0 1 0 -6.3 0M679.95 321.13a3.15 3.15 0 1 0 6.3 0a3.15 3.15 0 1 0 -6.3 0M685.27 321.5a3.15 3.15 0 1 0 6.3 0a3.15 3.15 0 1 0 -6.3 0M690.6 321.62a3.15 3.15 0 1 0 6.3 0a3.15 3.15 0 1 0 -6.3 0M695.93 321.75a3.15 3.15 0 1 0 6.3 0a3.15 3.15 0 1 0 -6.3 0M701.26 321.88a3.15 3.15 0 1 0 6.3 0a3.15 3.15 0 1 0 -6.3 0M706.59 322a3.15 3.15 0 1 0 6.3 0a3.15 3.15 0 1 0 -6.3 0M711.92 322.26a3.15 3.15 0 1 0 6.3 0a3.15 3.15 0 1 0 -6.3 0M717.25 322.52a3.15 3.15 0 1 0 6.3 0a3.15 3.15 0 1 0 -6.3 0M722.58 322.78a3.15 3.15 0 1 0 6.3 0a3.15 3.15 0 1 0 -6.3 0M727.9 323.04a3.15 3.15 0 1 0 6.3 0a3.15 3.15 0 1 0 -6.3 0M733.23 323.3a3.15 3.15 0 1 0 6.3 0a3.15 3.15 0 1 0 -6.3 0M738.56 323.8a3.15 3.15 0 1 0 6.3 0a3.15 3.15 0 1 0 -6.3 0M743.89 324.3a3.15 3.15 0 1 0 6.3 0a3.15 3.15 0 1 0 -6.3 0M749.22 324.8a3.15 3.15 0 1 0 6.3 0a3.15 3.15 0 1 0 -6.3 0M754.55 325.35a3.15 3.15 0 1 0 6.3 0a3.15 3.15 0 1 0 -6.3 0M759.88 325.9a3.15 3.15 0 1 0 6.3 0a3.15 3.15 0 1 0 -6.3 0M765.2 326.45a3.15 3.15 0 1 0 6.3 0a3.15 3.15 0 1 0 -6.3 0M770.53 327a3.15 3.15 0 1 0 6.3 0a3.15 3.15 0 1 0 -6.3 0M775.86 327.3a3.15 3.15 0 1 0 6.3 0a3.15 3.15 0 1 0 -6.3 0M781.19 327.6a3.15 3.15 0 1 0 6.3 0a3.15 3.15 0 1 0 -6.3 0M786.52 327.9a3.15 3.15 0 1 0 6.3 0a3.15 3.15 0 1 0 -6.3 0M791.85 328.2a3.15 3.15 0 1 0 6.3 0a3.15 3.15 0 1 0 -6.3 0M797.18 328.42a3.15 3.15 0 1 0 6.3 0a3.15 3.15 0 1 0 -6.3 0M802.51 328.64a3.15 3.15 0 1 0 6.3 0a3.15 3.15 0 1 0 -6.3 0M807.83 328.86a3.15 3.15 0 1 0 6.3 0a3.15 3.15 0 1 0 -6.3 0M813.16 329.08a3.15 3.15 0 1 0 6.3 0a3.15 3.15 0 1 0 -6.3 0M818.49 329.3a3.15 3.15 0 1 0 6.3 0a3.15 3.15 0 1 0 -6.3 0M823.82 329.15a3.15 3.15 0 1 0 6.3 0a3.15 3.15 0 1 0 -6.3 0M829.15 329a3.15 3.15 0 1 0 6.3 0a3.15 3.15 0 1 0 -6.3 0M834.48 328.4a3.15 3.15 0 1 0 6.3 0a3.15 3.15 0 1 0 -6.3 0M839.81 327.8a3.15 3.15 0 1 0 6.3 0a3.15 3.15 0 1 0 -6.3 0M845.13 328.53a3.15 3.15 0 1 0 6.3 0a3.15 3.15 0 1 0 -6.3 0M850.46 329.27a3.15 3.15 0 1 0 6.3 0a3.15 3.15 0 1 0 -6.3 0M855.79 330a3.15 3.15 0 1 0 6.3 0a3.15 3.15 0 1 0 -6.3 0M861.12 328.65a3.15 3.15 0 1 0 6.3 0a3.15 3.15 0 1 0 -6.3 0M866.45 327.3a3.15 3.15 0 1 0 6.3 0a3.15 3.15 0 1 0 -6.3 0M871.78 327.63a3.15 3.15 0 1 0 6.3 0a3.15 3.15 0 1 0 -6.3 0M877.11 327.97a3.15 3.15 0 1 0 6.3 0a3.15 3.15 0 1 0 -6.3 0M882.44 328.3a3.15 3.15 0 1 0 6.3 0a3.15 3.15 0 1 0 -6.3 0M887.76 329.15a3.15 3.15 0 1 0 6.3 0a3.15 3.15 0 1 0 -6.3 0M893.09 330a3.15 3.15 0 1 0 6.3 0a3.15 3.15 0 1 0 -6.3 0M898.42 330.7a3.15 3.15 0 1 0 6.3 0a3.15 3.15 0 1 0 -6.3 0M903.75 325.3a3.15 3.15 0 1 0 6.3 0a3.15 3.15 0 1 0 -6.3 0" fill="#0000f8"/><path d="M72.1 329.5H999" stroke="#000" stroke-width="2.6" stroke-dasharray="10 7.76"/><path d="M92.6 321.8V24M92.6 336V476.5" stroke="#000" stroke-width="2.4"/><path d="M92.6 17.2L89.2 24.8L96 24.8Z M92.6 483.7L89.2 476.2L96 476.2Z" fill="#000"/><path d="M887.5 36.80H897.5" stroke="#000000" stroke-width="1"/><circle cx="892.4" cy="36.80" r="3.2" fill="#000000"/><text x="900" y="39.40" font-size="13.7" textLength="87" lengthAdjust="spacingAndGlyphs">Nail varnish A</text><path d="M887.5 58.45H897.5" stroke="#00f000" stroke-width="1"/><circle cx="892.4" cy="58.45" r="3.2" fill="#00f000"/><text x="900" y="61.05" font-size="13.7" textLength="87" lengthAdjust="spacingAndGlyphs">Nail varnish B</text><path d="M887.5 80.10H897.5" stroke="#f80000" stroke-width="1"/><circle cx="892.4" cy="80.10" r="3.2" fill="#f80000"/><text x="900" y="82.70" font-size="13.7" textLength="87" lengthAdjust="spacingAndGlyphs">Nail varnish C</text><path d="M887.5 101.75H897.5" stroke="#00f4f4" stroke-width="1"/><circle cx="892.4" cy="101.75" r="3.2" fill="#00f4f4"/><text x="900" y="104.35" font-size="13.7" textLength="87" lengthAdjust="spacingAndGlyphs">Nail varnish D</text><path d="M887.5 123.40H897.5" stroke="#0000f8" stroke-width="1"/><circle cx="892.4" cy="123.40" r="3.2" fill="#0000f8"/><text x="900" y="126.00" font-size="13.7" textLength="87" lengthAdjust="spacingAndGlyphs">Nail varnish E</text><text x="36.4" y="19.7" font-size="13.8" textLength="15.2" lengthAdjust="spacingAndGlyphs">10</text><text x="53.3" y="14.8" font-size="10.6">2</text><text x="36.4" y="176.8" font-size="13.8" textLength="15.2" lengthAdjust="spacingAndGlyphs">10</text><text x="53.3" y="171.9" font-size="10.6">1</text><text x="36.4" y="333.4" font-size="13.8" textLength="15.2" lengthAdjust="spacingAndGlyphs">10</text><text x="53.3" y="328.5" font-size="10.6">0</text><text x="32.2" y="491.0" font-size="13.8" textLength="15.6" lengthAdjust="spacingAndGlyphs">10</text><text x="49.9" y="486.1" font-size="10.6">-1</text><text x="67.9" y="507.6" font-size="13.8" text-anchor="middle">0</text><text x="301.5" y="507.6" font-size="13.8" text-anchor="middle" textLength="32.6" lengthAdjust="spacingAndGlyphs">1000</text><text x="534.5" y="507.6" font-size="13.8" text-anchor="middle" textLength="32.6" lengthAdjust="spacingAndGlyphs">2000</text><text x="767.5" y="507.6" font-size="13.8" text-anchor="middle" textLength="32.6" lengthAdjust="spacingAndGlyphs">3000</text><text x="1000.5" y="507.6" font-size="13.8" text-anchor="middle" textLength="32.6" lengthAdjust="spacingAndGlyphs">4000</text><text x="478" y="534.6" font-size="13.4" textLength="62.5" lengthAdjust="spacingAndGlyphs">Step time</text><text x="547.6" y="534.6" font-size="13.4" font-style="italic" font-family="Liberation Serif, serif">t</text><text x="554.8" y="535.2" font-size="7.5">s</text><text x="566.6" y="534.6" font-size="13.4" textLength="17.5" lengthAdjust="spacingAndGlyphs">(s)</text><g transform="translate(14.1 315.6) rotate(-90)"><text x="0" y="0" font-size="13.4" textLength="93.5" lengthAdjust="spacingAndGlyphs">Tan(delta) tan(</text><text x="97.6" y="0" font-size="13.4" font-style="italic">δ</text><text x="105.4" y="0" font-size="13.4">)</text></g><circle cx="8.4" cy="190.6" r="6.7" fill="#000"/><text x="100.8" y="59.5" font-size="19.5" textLength="144" lengthAdjust="spacingAndGlyphs">Liquid-dominant</text><text x="100.2" y="359.2" font-size="19.5" textLength="135.4" lengthAdjust="spacingAndGlyphs">Solid-dominant</text></svg></body></html>
